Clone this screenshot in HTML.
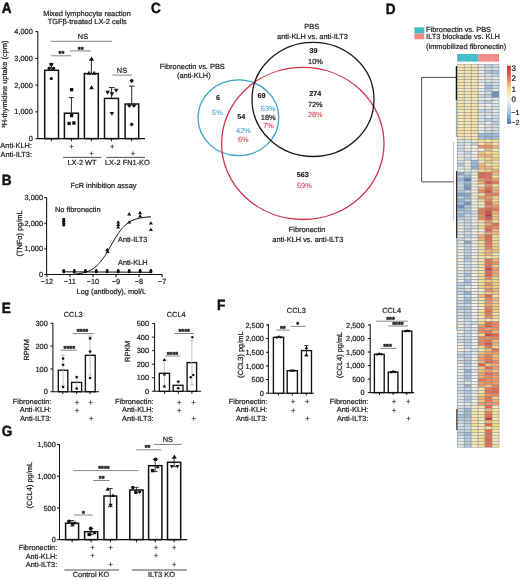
<!DOCTYPE html>
<html><head><meta charset="utf-8"><style>
html,body{margin:0;padding:0;background:#fff;}
svg{display:block;font-family:"Liberation Sans",Arial,sans-serif;text-rendering:geometricPrecision;}
</style></head><body>
<svg width="520" height="580" viewBox="0 0 520 580">
<rect width="520" height="580" fill="#fff"/>
<text x="0" y="0" font-size="14.8" font-weight="bold" fill="#111" stroke="#111" stroke-width="0.45" transform="translate(1.8 13) scale(0.92 1)">A</text>
<text x="0" y="0" font-size="14.8" font-weight="bold" fill="#111" stroke="#111" stroke-width="0.45" transform="translate(1.8 184.5) scale(0.92 1)">B</text>
<text x="0" y="0" font-size="14.8" font-weight="bold" fill="#111" stroke="#111" stroke-width="0.45" transform="translate(151.1 12.6) scale(0.92 1)">C</text>
<text x="0" y="0" font-size="14.8" font-weight="bold" fill="#111" stroke="#111" stroke-width="0.45" transform="translate(385.8 13.6) scale(0.92 1)">D</text>
<text x="0" y="0" font-size="14.8" font-weight="bold" fill="#111" stroke="#111" stroke-width="0.45" transform="translate(1.8 312.6) scale(0.92 1)">E</text>
<text x="0" y="0" font-size="14.8" font-weight="bold" fill="#111" stroke="#111" stroke-width="0.45" transform="translate(216.9 310) scale(0.92 1)">F</text>
<text x="0" y="0" font-size="14.8" font-weight="bold" fill="#111" stroke="#111" stroke-width="0.45" transform="translate(1.8 436.4) scale(0.92 1)">G</text>
<text x="87.00" y="15.80" font-size="7.4" text-anchor="middle" fill="#1e1e1e" stroke="#1e1e1e" stroke-width="0.22">Mixed lymphocyte reaction</text>
<text x="87.30" y="24.00" font-size="7.4" text-anchor="middle" fill="#1e1e1e" stroke="#1e1e1e" stroke-width="0.22">TGFβ-treated LX-2 cells</text>
<line x1="37.80" y1="31.60" x2="37.80" y2="138.60" stroke="#111" stroke-width="1.05"/>
<line x1="35.40" y1="138.60" x2="37.80" y2="138.60" stroke="#111" stroke-width="1.05"/>
<text x="32.80" y="141.20" font-size="7.4" text-anchor="end" fill="#1e1e1e" stroke="#1e1e1e" stroke-width="0.22">0</text>
<line x1="35.40" y1="111.85" x2="37.80" y2="111.85" stroke="#111" stroke-width="1.05"/>
<text x="32.80" y="114.45" font-size="7.4" text-anchor="end" fill="#1e1e1e" stroke="#1e1e1e" stroke-width="0.22">1,000</text>
<line x1="35.40" y1="85.10" x2="37.80" y2="85.10" stroke="#111" stroke-width="1.05"/>
<text x="32.80" y="87.70" font-size="7.4" text-anchor="end" fill="#1e1e1e" stroke="#1e1e1e" stroke-width="0.22">2,000</text>
<line x1="35.40" y1="58.35" x2="37.80" y2="58.35" stroke="#111" stroke-width="1.05"/>
<text x="32.80" y="60.95" font-size="7.4" text-anchor="end" fill="#1e1e1e" stroke="#1e1e1e" stroke-width="0.22">3,000</text>
<line x1="35.40" y1="31.60" x2="37.80" y2="31.60" stroke="#111" stroke-width="1.05"/>
<text x="32.80" y="34.20" font-size="7.4" text-anchor="end" fill="#1e1e1e" stroke="#1e1e1e" stroke-width="0.22">4,000</text>
<text x="7.30" y="84.20" font-size="7.4" text-anchor="middle" fill="#1e1e1e" stroke="#1e1e1e" stroke-width="0.22" transform="rotate(-90 7.3 84.2)">³H-thymidine uptake (cpm)</text>
<line x1="37.80" y1="138.60" x2="145.00" y2="138.60" stroke="#111" stroke-width="1.05"/>
<line x1="51.40" y1="138.60" x2="51.40" y2="141.20" stroke="#111" stroke-width="1.05"/>
<line x1="71.40" y1="138.60" x2="71.40" y2="141.20" stroke="#111" stroke-width="1.05"/>
<line x1="91.40" y1="138.60" x2="91.40" y2="141.20" stroke="#111" stroke-width="1.05"/>
<line x1="111.40" y1="138.60" x2="111.40" y2="141.20" stroke="#111" stroke-width="1.05"/>
<line x1="131.60" y1="138.60" x2="131.60" y2="141.20" stroke="#111" stroke-width="1.05"/>
<rect x="44.70" y="70.30" width="13.80" height="68.30" fill="#fff" stroke="#111" stroke-width="1.5"/>
<rect x="64.40" y="113.20" width="14.00" height="25.40" fill="#fff" stroke="#111" stroke-width="1.5"/>
<rect x="84.40" y="73.60" width="13.90" height="65.00" fill="#fff" stroke="#111" stroke-width="1.5"/>
<rect x="104.50" y="98.40" width="14.00" height="40.20" fill="#fff" stroke="#111" stroke-width="1.5"/>
<rect x="125.10" y="104.00" width="13.60" height="34.60" fill="#fff" stroke="#111" stroke-width="1.5"/>
<line x1="51.40" y1="63.40" x2="51.40" y2="70.30" stroke="#111" stroke-width="0.9"/>
<line x1="49.20" y1="63.40" x2="53.60" y2="63.40" stroke="#111" stroke-width="0.9"/>
<line x1="71.40" y1="97.50" x2="71.40" y2="113.20" stroke="#111" stroke-width="0.9"/>
<line x1="69.00" y1="97.50" x2="74.00" y2="97.50" stroke="#111" stroke-width="0.9"/>
<line x1="91.40" y1="60.00" x2="91.40" y2="73.60" stroke="#111" stroke-width="0.9"/>
<line x1="111.60" y1="87.60" x2="111.60" y2="98.40" stroke="#111" stroke-width="0.9"/>
<line x1="108.90" y1="87.60" x2="114.60" y2="87.60" stroke="#111" stroke-width="0.9"/>
<line x1="131.70" y1="86.10" x2="131.70" y2="104.00" stroke="#111" stroke-width="0.9"/>
<line x1="129.00" y1="86.10" x2="134.60" y2="86.10" stroke="#111" stroke-width="0.9"/>
<polygon points="51.30,62.39 53.51,64.60 51.30,66.81 49.09,64.60" fill="#111"/>
<circle cx="49.20" cy="68.30" r="1.68" fill="#111"/>
<circle cx="53.60" cy="68.50" r="1.68" fill="#111"/>
<circle cx="51.30" cy="78.60" r="1.68" fill="#111"/>
<rect x="69.92" y="88.02" width="3.36" height="3.36" fill="#111"/>
<rect x="69.92" y="113.92" width="3.36" height="3.36" fill="#111"/>
<rect x="67.42" y="121.82" width="3.36" height="3.36" fill="#111"/>
<rect x="72.22" y="121.32" width="3.36" height="3.36" fill="#111"/>
<polygon points="88.94,60.85 94.06,60.85 91.50,56.49" fill="#111"/>
<polygon points="86.61,74.64 91.20,74.64 88.90,70.73" fill="#111"/>
<polygon points="91.91,74.64 96.50,74.64 94.20,70.73" fill="#111"/>
<polygon points="89.30,89.14 93.89,89.14 91.60,85.23" fill="#111"/>
<polygon points="105.30,90.76 109.89,90.76 107.60,94.67" fill="#111"/>
<polygon points="109.61,92.36 114.20,92.36 111.90,96.27" fill="#111"/>
<polygon points="113.91,88.76 118.50,88.76 116.20,92.67" fill="#111"/>
<polygon points="109.61,111.96 114.20,111.96 111.90,115.87" fill="#111"/>
<polygon points="131.70,78.59 133.91,80.80 131.70,83.01 129.49,80.80" fill="#111"/>
<polygon points="129.40,103.39 131.61,105.60 129.40,107.81 127.19,105.60" fill="#111"/>
<polygon points="133.90,103.39 136.11,105.60 133.90,107.81 131.69,105.60" fill="#111"/>
<polygon points="131.70,122.19 133.91,124.40 131.70,126.61 129.49,124.40" fill="#111"/>
<line x1="50.60" y1="41.30" x2="112.10" y2="41.30" stroke="#555" stroke-width="0.7"/>
<text x="83.00" y="39.00" font-size="7.4" text-anchor="middle" fill="#1e1e1e" stroke="#1e1e1e" stroke-width="0.22">NS</text>
<line x1="51.20" y1="55.80" x2="71.10" y2="55.80" stroke="#555" stroke-width="0.7"/>
<text x="61.40" y="56.40" font-size="7.4" text-anchor="middle" font-weight="bold" fill="#111" stroke="#111" stroke-width="0.35">**</text>
<line x1="69.90" y1="50.90" x2="91.00" y2="50.90" stroke="#555" stroke-width="0.7"/>
<text x="80.70" y="51.50" font-size="7.4" text-anchor="middle" font-weight="bold" fill="#111" stroke="#111" stroke-width="0.35">**</text>
<line x1="112.30" y1="75.10" x2="131.70" y2="75.10" stroke="#555" stroke-width="0.7"/>
<text x="122.00" y="73.00" font-size="7.4" text-anchor="middle" fill="#1e1e1e" stroke="#1e1e1e" stroke-width="0.22">NS</text>
<text x="32.00" y="148.40" font-size="7.4" text-anchor="end" fill="#1e1e1e" stroke="#1e1e1e" stroke-width="0.22">Anti-KLH:</text>
<text x="32.00" y="157.00" font-size="7.4" text-anchor="end" fill="#1e1e1e" stroke="#1e1e1e" stroke-width="0.22">Anti-ILT3:</text>
<text x="71.50" y="148.70" font-size="7.6" text-anchor="middle" fill="#333" stroke="#333" stroke-width="0.22">+</text>
<text x="112.30" y="148.70" font-size="7.6" text-anchor="middle" fill="#333" stroke="#333" stroke-width="0.22">+</text>
<text x="91.50" y="155.80" font-size="7.6" text-anchor="middle" fill="#333" stroke="#333" stroke-width="0.22">+</text>
<text x="133.00" y="155.80" font-size="7.6" text-anchor="middle" fill="#333" stroke="#333" stroke-width="0.22">+</text>
<line x1="63.00" y1="157.40" x2="101.30" y2="157.40" stroke="#222" stroke-width="0.8"/>
<text x="82.00" y="165.20" font-size="7.4" text-anchor="middle" fill="#1e1e1e" stroke="#1e1e1e" stroke-width="0.22">LX-2 WT</text>
<line x1="106.30" y1="157.40" x2="145.00" y2="157.40" stroke="#222" stroke-width="0.8"/>
<text x="127.40" y="165.20" font-size="7.4" text-anchor="middle" fill="#1e1e1e" stroke="#1e1e1e" stroke-width="0.22">LX-2 FN1-KO</text>
<text x="103.50" y="187.60" font-size="7.4" text-anchor="middle" fill="#1e1e1e" stroke="#1e1e1e" stroke-width="0.22">FcR inhibition assay</text>
<line x1="46.60" y1="197.40" x2="46.60" y2="274.50" stroke="#111" stroke-width="1.05"/>
<line x1="44.20" y1="274.50" x2="46.60" y2="274.50" stroke="#111" stroke-width="1.05"/>
<text x="43.00" y="277.10" font-size="7.4" text-anchor="end" fill="#1e1e1e" stroke="#1e1e1e" stroke-width="0.22">0</text>
<line x1="44.20" y1="248.87" x2="46.60" y2="248.87" stroke="#111" stroke-width="1.05"/>
<text x="43.00" y="251.47" font-size="7.4" text-anchor="end" fill="#1e1e1e" stroke="#1e1e1e" stroke-width="0.22">1,000</text>
<line x1="44.20" y1="223.23" x2="46.60" y2="223.23" stroke="#111" stroke-width="1.05"/>
<text x="43.00" y="225.83" font-size="7.4" text-anchor="end" fill="#1e1e1e" stroke="#1e1e1e" stroke-width="0.22">2,000</text>
<line x1="44.20" y1="197.60" x2="46.60" y2="197.60" stroke="#111" stroke-width="1.05"/>
<text x="43.00" y="200.20" font-size="7.4" text-anchor="end" fill="#1e1e1e" stroke="#1e1e1e" stroke-width="0.22">3,000</text>
<text x="22.00" y="233.50" font-size="7.4" text-anchor="middle" fill="#1e1e1e" stroke="#1e1e1e" stroke-width="0.22" transform="rotate(-90 22.0 233.5)">(TNFα) pg/mL</text>
<line x1="46.60" y1="274.50" x2="162.50" y2="274.50" stroke="#111" stroke-width="1.05"/>
<line x1="46.90" y1="274.50" x2="46.90" y2="277.10" stroke="#111" stroke-width="1.05"/>
<line x1="69.93" y1="274.50" x2="69.93" y2="277.10" stroke="#111" stroke-width="1.05"/>
<line x1="92.96" y1="274.50" x2="92.96" y2="277.10" stroke="#111" stroke-width="1.05"/>
<line x1="115.99" y1="274.50" x2="115.99" y2="277.10" stroke="#111" stroke-width="1.05"/>
<line x1="139.02" y1="274.50" x2="139.02" y2="277.10" stroke="#111" stroke-width="1.05"/>
<line x1="162.05" y1="274.50" x2="162.05" y2="277.10" stroke="#111" stroke-width="1.05"/>
<text x="46.90" y="283.80" font-size="7.4" text-anchor="middle" fill="#1e1e1e" stroke="#1e1e1e" stroke-width="0.22">−12</text>
<text x="69.93" y="283.80" font-size="7.4" text-anchor="middle" fill="#1e1e1e" stroke="#1e1e1e" stroke-width="0.22">−11</text>
<text x="92.96" y="283.80" font-size="7.4" text-anchor="middle" fill="#1e1e1e" stroke="#1e1e1e" stroke-width="0.22">−10</text>
<text x="115.99" y="283.80" font-size="7.4" text-anchor="middle" fill="#1e1e1e" stroke="#1e1e1e" stroke-width="0.22">−9</text>
<text x="139.02" y="283.80" font-size="7.4" text-anchor="middle" fill="#1e1e1e" stroke="#1e1e1e" stroke-width="0.22">−8</text>
<text x="162.05" y="283.80" font-size="7.4" text-anchor="middle" fill="#1e1e1e" stroke="#1e1e1e" stroke-width="0.22">−7</text>
<text x="111.30" y="294.00" font-size="7.4" text-anchor="middle" fill="#1e1e1e" stroke="#1e1e1e" stroke-width="0.22">Log (antibody), mol/L</text>
<text x="55.00" y="212.20" font-size="7.4" text-anchor="start" fill="#1e1e1e" stroke="#1e1e1e" stroke-width="0.22">No fibronectin</text>
<text x="118.00" y="241.80" font-size="7.4" text-anchor="start" fill="#1e1e1e" stroke="#1e1e1e" stroke-width="0.22">Anti-ILT3</text>
<text x="118.00" y="265.40" font-size="7.4" text-anchor="start" fill="#1e1e1e" stroke="#1e1e1e" stroke-width="0.22">Anti-KLH</text>
<line x1="63.50" y1="271.80" x2="151.00" y2="272.30" stroke="#111" stroke-width="1.0"/>
<circle cx="63.75" cy="271.80" r="1.56" fill="#111"/>
<circle cx="63.75" cy="270.40" r="1.32" fill="#111"/>
<circle cx="74.30" cy="271.80" r="1.56" fill="#111"/>
<circle cx="74.30" cy="270.40" r="1.32" fill="#111"/>
<circle cx="85.40" cy="271.80" r="1.56" fill="#111"/>
<circle cx="85.40" cy="270.40" r="1.32" fill="#111"/>
<circle cx="96.30" cy="271.80" r="1.56" fill="#111"/>
<circle cx="96.30" cy="270.40" r="1.32" fill="#111"/>
<circle cx="107.20" cy="271.80" r="1.56" fill="#111"/>
<circle cx="107.20" cy="270.40" r="1.32" fill="#111"/>
<circle cx="118.20" cy="271.80" r="1.56" fill="#111"/>
<circle cx="118.20" cy="270.40" r="1.32" fill="#111"/>
<circle cx="129.20" cy="271.80" r="1.56" fill="#111"/>
<circle cx="129.20" cy="270.40" r="1.32" fill="#111"/>
<circle cx="140.10" cy="271.80" r="1.56" fill="#111"/>
<circle cx="140.10" cy="270.40" r="1.32" fill="#111"/>
<circle cx="150.90" cy="271.80" r="1.56" fill="#111"/>
<circle cx="150.90" cy="270.40" r="1.32" fill="#111"/>
<circle cx="63.75" cy="219.40" r="1.56" fill="#111"/>
<circle cx="63.75" cy="221.30" r="1.56" fill="#111"/>
<circle cx="63.75" cy="223.20" r="1.56" fill="#111"/>
<circle cx="63.75" cy="225.00" r="1.56" fill="#111"/>
<polyline fill="none" stroke="#111" stroke-width="1.0" points="72.00,274.35 73.00,274.28 74.00,274.20 75.00,274.12 76.00,274.02 77.00,273.91 78.00,273.78 79.00,273.64 80.00,273.49 81.00,273.31 82.00,273.12 83.00,272.90 84.00,272.65 85.00,272.38 86.00,272.07 87.00,271.73 88.00,271.35 89.00,270.93 90.00,270.47 91.00,269.95 92.00,269.38 93.00,268.75 94.00,268.06 95.00,267.30 96.00,266.48 97.00,265.57 98.00,264.60 99.00,263.54 100.00,262.40 101.00,261.19 102.00,259.89 103.00,258.51 104.00,257.06 105.00,255.54 106.00,253.96 107.00,252.32 108.00,250.64 109.00,248.92 110.00,247.18 111.00,245.42 112.00,243.67 113.00,241.93 114.00,240.22 115.00,238.55 116.00,236.92 117.00,235.35 118.00,233.84 119.00,232.41 120.00,231.05 121.00,229.76 122.00,228.56 123.00,227.44 124.00,226.40 125.00,225.44 126.00,224.55 127.00,223.74 128.00,223.00 129.00,222.32 130.00,221.70 131.00,221.14 132.00,220.64 133.00,220.18 134.00,219.77 135.00,219.40 136.00,219.06 137.00,218.76 138.00,218.50 139.00,218.26 140.00,218.04 141.00,217.85 142.00,217.68 143.00,217.53 144.00,217.39 145.00,217.27 146.00,217.16 147.00,217.07 148.00,216.98 149.00,216.91 150.00,216.84 151.00,216.78"/>
<polygon points="105.17,251.12 109.23,251.12 107.20,247.68" fill="#111"/>
<polygon points="105.57,252.92 109.62,252.92 107.60,249.48" fill="#111"/>
<polygon points="116.17,223.62 120.23,223.62 118.20,220.18" fill="#111"/>
<polygon points="116.17,226.12 120.23,226.12 118.20,222.68" fill="#111"/>
<polygon points="116.17,228.62 120.23,228.62 118.20,225.18" fill="#111"/>
<polygon points="127.17,215.42 131.22,215.42 129.20,211.98" fill="#111"/>
<polygon points="127.17,223.62 131.22,223.62 129.20,220.18" fill="#111"/>
<polygon points="138.07,214.22 142.12,214.22 140.10,210.78" fill="#111"/>
<polygon points="138.07,217.42 142.12,217.42 140.10,213.98" fill="#111"/>
<polygon points="148.88,224.62 152.93,224.62 150.90,221.18" fill="#111"/>
<polygon points="148.88,231.12 152.93,231.12 150.90,227.68" fill="#111"/>
<text x="73.20" y="317.00" font-size="7.4" text-anchor="middle" fill="#1e1e1e" stroke="#1e1e1e" stroke-width="0.22">CCL3</text>
<line x1="52.90" y1="323.30" x2="52.90" y2="391.70" stroke="#111" stroke-width="1.05"/>
<line x1="50.50" y1="391.70" x2="52.90" y2="391.70" stroke="#111" stroke-width="1.05"/>
<text x="47.80" y="394.30" font-size="7.4" text-anchor="end" fill="#1e1e1e" stroke="#1e1e1e" stroke-width="0.22">0</text>
<line x1="50.50" y1="368.90" x2="52.90" y2="368.90" stroke="#111" stroke-width="1.05"/>
<text x="47.80" y="371.50" font-size="7.4" text-anchor="end" fill="#1e1e1e" stroke="#1e1e1e" stroke-width="0.22">100</text>
<line x1="50.50" y1="346.10" x2="52.90" y2="346.10" stroke="#111" stroke-width="1.05"/>
<text x="47.80" y="348.70" font-size="7.4" text-anchor="end" fill="#1e1e1e" stroke="#1e1e1e" stroke-width="0.22">200</text>
<line x1="50.50" y1="323.30" x2="52.90" y2="323.30" stroke="#111" stroke-width="1.05"/>
<text x="47.80" y="325.90" font-size="7.4" text-anchor="end" fill="#1e1e1e" stroke="#1e1e1e" stroke-width="0.22">300</text>
<text x="29.40" y="349.80" font-size="7.4" text-anchor="middle" fill="#1e1e1e" stroke="#1e1e1e" stroke-width="0.22" transform="rotate(-90 29.4 349.8)">RPKM</text>
<line x1="52.90" y1="391.70" x2="99.00" y2="391.70" stroke="#111" stroke-width="1.05"/>
<line x1="62.80" y1="391.70" x2="62.80" y2="394.10" stroke="#111" stroke-width="1.05"/>
<line x1="76.70" y1="391.70" x2="76.70" y2="394.10" stroke="#111" stroke-width="1.05"/>
<line x1="90.10" y1="391.70" x2="90.10" y2="394.10" stroke="#111" stroke-width="1.05"/>
<rect x="58.30" y="370.20" width="9.50" height="21.50" fill="#fff" stroke="#111" stroke-width="1.35"/>
<rect x="71.60" y="382.40" width="10.00" height="9.30" fill="#fff" stroke="#111" stroke-width="1.35"/>
<rect x="85.40" y="355.30" width="9.80" height="36.40" fill="#fff" stroke="#111" stroke-width="1.35"/>
<line x1="63.10" y1="355.30" x2="63.10" y2="385.30" stroke="#aaa" stroke-width="0.7"/>
<line x1="61.10" y1="355.30" x2="65.10" y2="355.30" stroke="#aaa" stroke-width="0.7"/>
<line x1="61.10" y1="385.30" x2="65.10" y2="385.30" stroke="#aaa" stroke-width="0.7"/>
<line x1="76.70" y1="378.30" x2="76.70" y2="389.00" stroke="#aaa" stroke-width="0.7"/>
<line x1="74.70" y1="378.30" x2="78.70" y2="378.30" stroke="#aaa" stroke-width="0.7"/>
<line x1="74.70" y1="389.00" x2="78.70" y2="389.00" stroke="#aaa" stroke-width="0.7"/>
<line x1="90.10" y1="336.00" x2="90.10" y2="375.00" stroke="#aaa" stroke-width="0.7"/>
<line x1="88.10" y1="336.00" x2="92.10" y2="336.00" stroke="#aaa" stroke-width="0.7"/>
<line x1="88.10" y1="375.00" x2="92.10" y2="375.00" stroke="#aaa" stroke-width="0.7"/>
<circle cx="63.10" cy="358.60" r="1.32" fill="#111"/>
<circle cx="63.10" cy="364.80" r="1.32" fill="#111"/>
<circle cx="63.10" cy="387.10" r="1.32" fill="#111"/>
<circle cx="76.70" cy="377.00" r="1.32" fill="#111"/>
<circle cx="76.70" cy="388.50" r="1.32" fill="#111"/>
<circle cx="90.10" cy="338.40" r="1.32" fill="#111"/>
<circle cx="90.10" cy="351.60" r="1.32" fill="#111"/>
<circle cx="90.10" cy="378.00" r="1.32" fill="#111"/>
<line x1="60.80" y1="350.20" x2="76.90" y2="350.20" stroke="#555" stroke-width="0.7"/>
<text x="69.30" y="350.80" font-size="7.4" text-anchor="middle" font-weight="bold" fill="#111" stroke="#111" stroke-width="0.35">****</text>
<line x1="72.50" y1="333.60" x2="94.20" y2="333.60" stroke="#555" stroke-width="0.7"/>
<text x="82.40" y="334.20" font-size="7.4" text-anchor="middle" font-weight="bold" fill="#111" stroke="#111" stroke-width="0.35">****</text>
<text x="51.40" y="403.60" font-size="7.4" text-anchor="end" fill="#1e1e1e" stroke="#1e1e1e" stroke-width="0.22">Fibronectin:</text>
<text x="51.40" y="412.30" font-size="7.4" text-anchor="end" fill="#1e1e1e" stroke="#1e1e1e" stroke-width="0.22">Anti-KLH:</text>
<text x="51.40" y="421.40" font-size="7.4" text-anchor="end" fill="#1e1e1e" stroke="#1e1e1e" stroke-width="0.22">Anti-ILT3:</text>
<text x="76.90" y="404.60" font-size="7.6" text-anchor="middle" fill="#333" stroke="#333" stroke-width="0.22">+</text>
<text x="90.80" y="404.60" font-size="7.6" text-anchor="middle" fill="#333" stroke="#333" stroke-width="0.22">+</text>
<text x="76.90" y="412.80" font-size="7.6" text-anchor="middle" fill="#333" stroke="#333" stroke-width="0.22">+</text>
<text x="91.20" y="421.30" font-size="7.6" text-anchor="middle" fill="#333" stroke="#333" stroke-width="0.22">+</text>
<text x="176.20" y="316.60" font-size="7.4" text-anchor="middle" fill="#1e1e1e" stroke="#1e1e1e" stroke-width="0.22">CCL4</text>
<line x1="154.60" y1="323.40" x2="154.60" y2="391.30" stroke="#111" stroke-width="1.05"/>
<line x1="152.20" y1="391.30" x2="154.60" y2="391.30" stroke="#111" stroke-width="1.05"/>
<text x="149.00" y="393.90" font-size="7.4" text-anchor="end" fill="#1e1e1e" stroke="#1e1e1e" stroke-width="0.22">0</text>
<line x1="152.20" y1="377.76" x2="154.60" y2="377.76" stroke="#111" stroke-width="1.05"/>
<text x="149.00" y="380.36" font-size="7.4" text-anchor="end" fill="#1e1e1e" stroke="#1e1e1e" stroke-width="0.22">100</text>
<line x1="152.20" y1="364.22" x2="154.60" y2="364.22" stroke="#111" stroke-width="1.05"/>
<text x="149.00" y="366.82" font-size="7.4" text-anchor="end" fill="#1e1e1e" stroke="#1e1e1e" stroke-width="0.22">200</text>
<line x1="152.20" y1="350.68" x2="154.60" y2="350.68" stroke="#111" stroke-width="1.05"/>
<text x="149.00" y="353.28" font-size="7.4" text-anchor="end" fill="#1e1e1e" stroke="#1e1e1e" stroke-width="0.22">300</text>
<line x1="152.20" y1="337.14" x2="154.60" y2="337.14" stroke="#111" stroke-width="1.05"/>
<text x="149.00" y="339.74" font-size="7.4" text-anchor="end" fill="#1e1e1e" stroke="#1e1e1e" stroke-width="0.22">400</text>
<line x1="152.20" y1="323.60" x2="154.60" y2="323.60" stroke="#111" stroke-width="1.05"/>
<text x="149.00" y="326.20" font-size="7.4" text-anchor="end" fill="#1e1e1e" stroke="#1e1e1e" stroke-width="0.22">500</text>
<text x="130.20" y="351.20" font-size="7.4" text-anchor="middle" fill="#1e1e1e" stroke="#1e1e1e" stroke-width="0.22" transform="rotate(-90 130.2 351.2)">RPKM</text>
<line x1="154.60" y1="391.30" x2="201.00" y2="391.30" stroke="#111" stroke-width="1.05"/>
<line x1="164.60" y1="391.30" x2="164.60" y2="393.70" stroke="#111" stroke-width="1.05"/>
<line x1="178.30" y1="391.30" x2="178.30" y2="393.70" stroke="#111" stroke-width="1.05"/>
<line x1="191.90" y1="391.30" x2="191.90" y2="393.70" stroke="#111" stroke-width="1.05"/>
<rect x="159.30" y="373.30" width="10.20" height="18.00" fill="#fff" stroke="#111" stroke-width="1.35"/>
<rect x="173.20" y="385.30" width="9.80" height="6.00" fill="#fff" stroke="#111" stroke-width="1.35"/>
<rect x="187.10" y="362.60" width="9.50" height="28.70" fill="#fff" stroke="#111" stroke-width="1.35"/>
<line x1="164.40" y1="359.70" x2="164.40" y2="386.00" stroke="#aaa" stroke-width="0.7"/>
<line x1="162.40" y1="359.70" x2="166.40" y2="359.70" stroke="#aaa" stroke-width="0.7"/>
<line x1="162.40" y1="386.00" x2="166.40" y2="386.00" stroke="#aaa" stroke-width="0.7"/>
<line x1="178.30" y1="381.60" x2="178.30" y2="388.20" stroke="#aaa" stroke-width="0.7"/>
<line x1="176.30" y1="381.60" x2="180.30" y2="381.60" stroke="#aaa" stroke-width="0.7"/>
<line x1="176.30" y1="388.20" x2="180.30" y2="388.20" stroke="#aaa" stroke-width="0.7"/>
<line x1="191.90" y1="340.20" x2="191.90" y2="385.00" stroke="#aaa" stroke-width="0.7"/>
<line x1="189.90" y1="340.20" x2="193.90" y2="340.20" stroke="#aaa" stroke-width="0.7"/>
<line x1="189.90" y1="385.00" x2="193.90" y2="385.00" stroke="#aaa" stroke-width="0.7"/>
<polygon points="162.65,361.10 166.16,361.10 164.40,358.12" fill="#111"/>
<polygon points="162.65,375.40 166.16,375.40 164.40,372.42" fill="#111"/>
<polygon points="162.65,387.40 166.16,387.40 164.40,384.42" fill="#111"/>
<circle cx="178.30" cy="381.60" r="1.32" fill="#111"/>
<circle cx="178.30" cy="388.20" r="1.32" fill="#111"/>
<circle cx="192.30" cy="337.30" r="1.2" fill="#111"/>
<circle cx="190.80" cy="377.30" r="1.2" fill="#111"/>
<circle cx="193.30" cy="375.00" r="1.2" fill="#111"/>
<line x1="165.20" y1="356.00" x2="179.80" y2="356.00" stroke="#555" stroke-width="0.7"/>
<text x="172.50" y="356.60" font-size="7.4" text-anchor="middle" font-weight="bold" fill="#111" stroke="#111" stroke-width="0.35">****</text>
<line x1="174.40" y1="333.50" x2="194.00" y2="333.50" stroke="#555" stroke-width="0.7"/>
<text x="184.20" y="334.10" font-size="7.4" text-anchor="middle" font-weight="bold" fill="#111" stroke="#111" stroke-width="0.35">****</text>
<text x="153.60" y="403.60" font-size="7.4" text-anchor="end" fill="#1e1e1e" stroke="#1e1e1e" stroke-width="0.22">Fibronectin:</text>
<text x="153.60" y="412.30" font-size="7.4" text-anchor="end" fill="#1e1e1e" stroke="#1e1e1e" stroke-width="0.22">Anti-KLH:</text>
<text x="153.60" y="421.40" font-size="7.4" text-anchor="end" fill="#1e1e1e" stroke="#1e1e1e" stroke-width="0.22">Anti-ILT3:</text>
<text x="179.20" y="404.60" font-size="7.6" text-anchor="middle" fill="#333" stroke="#333" stroke-width="0.22">+</text>
<text x="193.40" y="404.60" font-size="7.6" text-anchor="middle" fill="#333" stroke="#333" stroke-width="0.22">+</text>
<text x="179.20" y="412.80" font-size="7.6" text-anchor="middle" fill="#333" stroke="#333" stroke-width="0.22">+</text>
<text x="193.80" y="421.30" font-size="7.6" text-anchor="middle" fill="#333" stroke="#333" stroke-width="0.22">+</text>
<text x="296.30" y="312.60" font-size="7.4" text-anchor="middle" fill="#1e1e1e" stroke="#1e1e1e" stroke-width="0.22">CCL3</text>
<line x1="268.40" y1="324.20" x2="268.40" y2="393.20" stroke="#111" stroke-width="1.05"/>
<line x1="266.00" y1="393.20" x2="268.40" y2="393.20" stroke="#111" stroke-width="1.05"/>
<text x="263.90" y="395.80" font-size="7.4" text-anchor="end" fill="#1e1e1e" stroke="#1e1e1e" stroke-width="0.22">0</text>
<line x1="266.00" y1="379.56" x2="268.40" y2="379.56" stroke="#111" stroke-width="1.05"/>
<text x="263.90" y="382.16" font-size="7.4" text-anchor="end" fill="#1e1e1e" stroke="#1e1e1e" stroke-width="0.22">500</text>
<line x1="266.00" y1="365.92" x2="268.40" y2="365.92" stroke="#111" stroke-width="1.05"/>
<text x="263.90" y="368.52" font-size="7.4" text-anchor="end" fill="#1e1e1e" stroke="#1e1e1e" stroke-width="0.22">1,000</text>
<line x1="266.00" y1="352.28" x2="268.40" y2="352.28" stroke="#111" stroke-width="1.05"/>
<text x="263.90" y="354.88" font-size="7.4" text-anchor="end" fill="#1e1e1e" stroke="#1e1e1e" stroke-width="0.22">1,500</text>
<line x1="266.00" y1="338.64" x2="268.40" y2="338.64" stroke="#111" stroke-width="1.05"/>
<text x="263.90" y="341.24" font-size="7.4" text-anchor="end" fill="#1e1e1e" stroke="#1e1e1e" stroke-width="0.22">2,000</text>
<line x1="266.00" y1="325.00" x2="268.40" y2="325.00" stroke="#111" stroke-width="1.05"/>
<text x="263.90" y="327.60" font-size="7.4" text-anchor="end" fill="#1e1e1e" stroke="#1e1e1e" stroke-width="0.22">2,500</text>
<text x="242.80" y="354.70" font-size="7.4" text-anchor="middle" fill="#1e1e1e" stroke="#1e1e1e" stroke-width="0.22" transform="rotate(-90 242.8 354.7)">(CCL3) pg/mL</text>
<line x1="268.40" y1="393.20" x2="314.00" y2="393.20" stroke="#111" stroke-width="1.05"/>
<line x1="278.40" y1="393.20" x2="278.40" y2="395.60" stroke="#111" stroke-width="1.05"/>
<line x1="292.30" y1="393.20" x2="292.30" y2="395.60" stroke="#111" stroke-width="1.05"/>
<line x1="306.30" y1="393.20" x2="306.30" y2="395.60" stroke="#111" stroke-width="1.05"/>
<rect x="273.40" y="337.30" width="10.20" height="55.90" fill="#fff" stroke="#111" stroke-width="1.35"/>
<rect x="287.20" y="370.70" width="10.20" height="22.50" fill="#fff" stroke="#111" stroke-width="1.35"/>
<rect x="301.50" y="350.60" width="10.00" height="42.60" fill="#fff" stroke="#111" stroke-width="1.35"/>
<circle cx="276.60" cy="337.50" r="1.2" fill="#111"/>
<circle cx="278.80" cy="336.70" r="1.2" fill="#111"/>
<circle cx="280.70" cy="337.30" r="1.2" fill="#111"/>
<circle cx="290.50" cy="370.60" r="1.2" fill="#111"/>
<circle cx="292.30" cy="370.50" r="1.2" fill="#111"/>
<circle cx="294.20" cy="370.60" r="1.2" fill="#111"/>
<line x1="306.40" y1="345.50" x2="306.40" y2="356.00" stroke="#111" stroke-width="0.8"/>
<line x1="304.40" y1="345.50" x2="308.40" y2="345.50" stroke="#111" stroke-width="0.8"/>
<line x1="304.40" y1="356.00" x2="308.40" y2="356.00" stroke="#111" stroke-width="0.8"/>
<polygon points="304.64,348.90 308.15,348.90 306.40,345.92" fill="#111"/>
<polygon points="304.64,355.90 308.15,355.90 306.40,352.92" fill="#111"/>
<line x1="276.30" y1="330.10" x2="289.80" y2="330.10" stroke="#555" stroke-width="0.7"/>
<text x="282.80" y="330.70" font-size="7.4" text-anchor="middle" font-weight="bold" fill="#111" stroke="#111" stroke-width="0.35">**</text>
<line x1="290.50" y1="326.40" x2="305.60" y2="326.40" stroke="#555" stroke-width="0.7"/>
<text x="297.60" y="327.00" font-size="7.4" text-anchor="middle" font-weight="bold" fill="#111" stroke="#111" stroke-width="0.35">*</text>
<text x="267.40" y="403.60" font-size="7.4" text-anchor="end" fill="#1e1e1e" stroke="#1e1e1e" stroke-width="0.22">Fibronectin:</text>
<text x="267.40" y="412.30" font-size="7.4" text-anchor="end" fill="#1e1e1e" stroke="#1e1e1e" stroke-width="0.22">Anti-KLH:</text>
<text x="267.40" y="421.40" font-size="7.4" text-anchor="end" fill="#1e1e1e" stroke="#1e1e1e" stroke-width="0.22">Anti-ILT3:</text>
<text x="292.90" y="404.40" font-size="7.6" text-anchor="middle" fill="#333" stroke="#333" stroke-width="0.22">+</text>
<text x="307.30" y="404.40" font-size="7.6" text-anchor="middle" fill="#333" stroke="#333" stroke-width="0.22">+</text>
<text x="293.10" y="412.50" font-size="7.6" text-anchor="middle" fill="#333" stroke="#333" stroke-width="0.22">+</text>
<text x="307.50" y="421.30" font-size="7.6" text-anchor="middle" fill="#333" stroke="#333" stroke-width="0.22">+</text>
<text x="391.60" y="312.60" font-size="7.4" text-anchor="middle" fill="#1e1e1e" stroke="#1e1e1e" stroke-width="0.22">CCL4</text>
<line x1="370.20" y1="324.20" x2="370.20" y2="392.60" stroke="#111" stroke-width="1.05"/>
<line x1="367.80" y1="392.60" x2="370.20" y2="392.60" stroke="#111" stroke-width="1.05"/>
<text x="364.60" y="395.20" font-size="7.4" text-anchor="end" fill="#1e1e1e" stroke="#1e1e1e" stroke-width="0.22">0</text>
<line x1="367.80" y1="379.08" x2="370.20" y2="379.08" stroke="#111" stroke-width="1.05"/>
<text x="364.60" y="381.68" font-size="7.4" text-anchor="end" fill="#1e1e1e" stroke="#1e1e1e" stroke-width="0.22">500</text>
<line x1="367.80" y1="365.56" x2="370.20" y2="365.56" stroke="#111" stroke-width="1.05"/>
<text x="364.60" y="368.16" font-size="7.4" text-anchor="end" fill="#1e1e1e" stroke="#1e1e1e" stroke-width="0.22">1,000</text>
<line x1="367.80" y1="352.04" x2="370.20" y2="352.04" stroke="#111" stroke-width="1.05"/>
<text x="364.60" y="354.64" font-size="7.4" text-anchor="end" fill="#1e1e1e" stroke="#1e1e1e" stroke-width="0.22">1,500</text>
<line x1="367.80" y1="338.52" x2="370.20" y2="338.52" stroke="#111" stroke-width="1.05"/>
<text x="364.60" y="341.12" font-size="7.4" text-anchor="end" fill="#1e1e1e" stroke="#1e1e1e" stroke-width="0.22">2,000</text>
<line x1="367.80" y1="325.00" x2="370.20" y2="325.00" stroke="#111" stroke-width="1.05"/>
<text x="364.60" y="327.60" font-size="7.4" text-anchor="end" fill="#1e1e1e" stroke="#1e1e1e" stroke-width="0.22">2,500</text>
<text x="342.40" y="355.00" font-size="7.4" text-anchor="middle" fill="#1e1e1e" stroke="#1e1e1e" stroke-width="0.22" transform="rotate(-90 342.4 355.0)">(CCL4) pg/mL</text>
<line x1="370.20" y1="392.60" x2="414.00" y2="392.60" stroke="#111" stroke-width="1.05"/>
<line x1="379.50" y1="392.60" x2="379.50" y2="395.00" stroke="#111" stroke-width="1.05"/>
<line x1="393.10" y1="392.60" x2="393.10" y2="395.00" stroke="#111" stroke-width="1.05"/>
<line x1="406.80" y1="392.60" x2="406.80" y2="395.00" stroke="#111" stroke-width="1.05"/>
<rect x="374.40" y="354.30" width="9.80" height="38.30" fill="#fff" stroke="#111" stroke-width="1.35"/>
<rect x="388.30" y="372.10" width="9.60" height="20.50" fill="#fff" stroke="#111" stroke-width="1.35"/>
<rect x="402.30" y="331.10" width="9.50" height="61.50" fill="#fff" stroke="#111" stroke-width="1.35"/>
<circle cx="377.30" cy="354.50" r="1.2" fill="#111"/>
<circle cx="379.30" cy="353.80" r="1.2" fill="#111"/>
<circle cx="381.30" cy="354.30" r="1.2" fill="#111"/>
<circle cx="391.20" cy="372.30" r="1.2" fill="#111"/>
<circle cx="393.10" cy="371.40" r="1.2" fill="#111"/>
<circle cx="395.00" cy="372.00" r="1.2" fill="#111"/>
<circle cx="405.30" cy="331.30" r="1.2" fill="#111"/>
<circle cx="407.10" cy="330.60" r="1.2" fill="#111"/>
<circle cx="409.00" cy="331.00" r="1.2" fill="#111"/>
<line x1="375.90" y1="321.20" x2="408.10" y2="321.20" stroke="#555" stroke-width="0.7"/>
<text x="390.50" y="321.80" font-size="7.4" text-anchor="middle" font-weight="bold" fill="#111" stroke="#111" stroke-width="0.35">***</text>
<line x1="388.30" y1="326.00" x2="408.10" y2="326.00" stroke="#555" stroke-width="0.7"/>
<text x="397.90" y="326.60" font-size="7.4" text-anchor="middle" font-weight="bold" fill="#111" stroke="#111" stroke-width="0.35">****</text>
<line x1="380.30" y1="348.40" x2="396.40" y2="348.40" stroke="#555" stroke-width="0.7"/>
<text x="387.50" y="349.00" font-size="7.4" text-anchor="middle" font-weight="bold" fill="#111" stroke="#111" stroke-width="0.35">***</text>
<text x="368.40" y="403.60" font-size="7.4" text-anchor="end" fill="#1e1e1e" stroke="#1e1e1e" stroke-width="0.22">Fibronectin:</text>
<text x="368.40" y="412.30" font-size="7.4" text-anchor="end" fill="#1e1e1e" stroke="#1e1e1e" stroke-width="0.22">Anti-KLH:</text>
<text x="368.40" y="421.40" font-size="7.4" text-anchor="end" fill="#1e1e1e" stroke="#1e1e1e" stroke-width="0.22">Anti-ILT3:</text>
<text x="393.90" y="404.40" font-size="7.6" text-anchor="middle" fill="#333" stroke="#333" stroke-width="0.22">+</text>
<text x="408.20" y="404.40" font-size="7.6" text-anchor="middle" fill="#333" stroke="#333" stroke-width="0.22">+</text>
<text x="393.90" y="412.50" font-size="7.6" text-anchor="middle" fill="#333" stroke="#333" stroke-width="0.22">+</text>
<text x="408.40" y="421.30" font-size="7.6" text-anchor="middle" fill="#333" stroke="#333" stroke-width="0.22">+</text>
<line x1="59.50" y1="444.40" x2="59.50" y2="539.60" stroke="#111" stroke-width="1.05"/>
<line x1="57.10" y1="539.60" x2="59.50" y2="539.60" stroke="#111" stroke-width="1.05"/>
<text x="55.80" y="542.20" font-size="7.4" text-anchor="end" fill="#1e1e1e" stroke="#1e1e1e" stroke-width="0.22">0</text>
<line x1="57.10" y1="507.93" x2="59.50" y2="507.93" stroke="#111" stroke-width="1.05"/>
<text x="55.80" y="510.53" font-size="7.4" text-anchor="end" fill="#1e1e1e" stroke="#1e1e1e" stroke-width="0.22">500</text>
<line x1="57.10" y1="476.27" x2="59.50" y2="476.27" stroke="#111" stroke-width="1.05"/>
<text x="55.80" y="478.87" font-size="7.4" text-anchor="end" fill="#1e1e1e" stroke="#1e1e1e" stroke-width="0.22">1,000</text>
<line x1="57.10" y1="444.60" x2="59.50" y2="444.60" stroke="#111" stroke-width="1.05"/>
<text x="55.80" y="447.20" font-size="7.4" text-anchor="end" fill="#1e1e1e" stroke="#1e1e1e" stroke-width="0.22">1,500</text>
<text x="31.80" y="485.20" font-size="7.4" text-anchor="middle" fill="#1e1e1e" stroke="#1e1e1e" stroke-width="0.22" transform="rotate(-90 31.8 485.2)">(CCL4) pg/mL</text>
<line x1="59.50" y1="539.60" x2="187.30" y2="539.60" stroke="#111" stroke-width="1.05"/>
<line x1="72.10" y1="539.60" x2="72.10" y2="542.20" stroke="#111" stroke-width="1.05"/>
<line x1="91.15" y1="539.60" x2="91.15" y2="542.20" stroke="#111" stroke-width="1.05"/>
<line x1="110.35" y1="539.60" x2="110.35" y2="542.20" stroke="#111" stroke-width="1.05"/>
<line x1="136.45" y1="539.60" x2="136.45" y2="542.20" stroke="#111" stroke-width="1.05"/>
<line x1="155.25" y1="539.60" x2="155.25" y2="542.20" stroke="#111" stroke-width="1.05"/>
<line x1="174.10" y1="539.60" x2="174.10" y2="542.20" stroke="#111" stroke-width="1.05"/>
<rect x="65.60" y="523.20" width="13.00" height="16.40" fill="#fff" stroke="#111" stroke-width="1.5"/>
<rect x="84.60" y="531.70" width="13.10" height="7.90" fill="#fff" stroke="#111" stroke-width="1.5"/>
<rect x="104.00" y="496.00" width="12.70" height="43.60" fill="#fff" stroke="#111" stroke-width="1.5"/>
<rect x="129.80" y="490.00" width="13.30" height="49.60" fill="#fff" stroke="#111" stroke-width="1.5"/>
<rect x="148.60" y="465.70" width="13.30" height="73.90" fill="#fff" stroke="#111" stroke-width="1.5"/>
<rect x="167.50" y="462.30" width="13.20" height="77.30" fill="#fff" stroke="#111" stroke-width="1.5"/>
<line x1="72.10" y1="520.50" x2="72.10" y2="526.00" stroke="#111" stroke-width="0.8"/>
<line x1="69.90" y1="520.50" x2="74.30" y2="520.50" stroke="#111" stroke-width="0.8"/>
<line x1="69.90" y1="526.00" x2="74.30" y2="526.00" stroke="#111" stroke-width="0.8"/>
<line x1="91.10" y1="528.50" x2="91.10" y2="534.80" stroke="#111" stroke-width="0.8"/>
<line x1="88.90" y1="528.50" x2="93.30" y2="528.50" stroke="#111" stroke-width="0.8"/>
<line x1="88.90" y1="534.80" x2="93.30" y2="534.80" stroke="#111" stroke-width="0.8"/>
<line x1="110.30" y1="488.50" x2="110.30" y2="506.70" stroke="#111" stroke-width="0.8"/>
<line x1="107.90" y1="488.50" x2="112.70" y2="488.50" stroke="#111" stroke-width="0.8"/>
<line x1="107.90" y1="506.70" x2="112.70" y2="506.70" stroke="#111" stroke-width="0.8"/>
<line x1="136.40" y1="487.30" x2="136.40" y2="492.60" stroke="#111" stroke-width="0.8"/>
<line x1="134.20" y1="487.30" x2="138.60" y2="487.30" stroke="#111" stroke-width="0.8"/>
<line x1="134.20" y1="492.60" x2="138.60" y2="492.60" stroke="#111" stroke-width="0.8"/>
<line x1="155.20" y1="459.30" x2="155.20" y2="471.60" stroke="#111" stroke-width="0.8"/>
<line x1="152.80" y1="459.30" x2="157.60" y2="459.30" stroke="#111" stroke-width="0.8"/>
<line x1="152.80" y1="471.60" x2="157.60" y2="471.60" stroke="#111" stroke-width="0.8"/>
<line x1="174.10" y1="458.10" x2="174.10" y2="466.70" stroke="#111" stroke-width="0.8"/>
<line x1="171.70" y1="458.10" x2="176.50" y2="458.10" stroke="#111" stroke-width="0.8"/>
<line x1="171.70" y1="466.70" x2="176.50" y2="466.70" stroke="#111" stroke-width="0.8"/>
<circle cx="68.90" cy="521.30" r="1.7999999999999998" fill="#111"/>
<rect x="71.14" y="522.54" width="3.12" height="3.12" fill="#111"/>
<polygon points="73.07,524.22 77.12,524.22 75.10,520.78" fill="#111"/>
<circle cx="90.70" cy="528.50" r="1.92" fill="#111"/>
<rect x="87.52" y="532.82" width="3.36" height="3.36" fill="#111"/>
<polygon points="92.47,534.22 96.53,534.22 94.50,530.78" fill="#111"/>
<polygon points="105.54,490.73 109.86,490.73 107.70,487.06" fill="#111"/>
<polygon points="110.97,496.92 115.03,496.92 113.00,493.48" fill="#111"/>
<polygon points="108.44,503.77 112.76,503.77 110.60,507.44" fill="#111"/>
<circle cx="132.80" cy="487.50" r="1.7999999999999998" fill="#111"/>
<rect x="134.24" y="490.84" width="3.12" height="3.12" fill="#111"/>
<polygon points="137.67,490.78 141.72,490.78 139.70,494.22" fill="#111"/>
<circle cx="155.60" cy="459.30" r="1.92" fill="#111"/>
<rect x="150.92" y="468.92" width="3.36" height="3.36" fill="#111"/>
<polygon points="155.57,468.32 159.62,468.32 157.60,464.88" fill="#111"/>
<polygon points="172.24,458.23 176.56,458.23 174.40,454.56" fill="#111"/>
<polygon points="169.78,465.08 173.83,465.08 171.80,468.52" fill="#111"/>
<polygon points="175.38,465.08 179.43,465.08 177.40,468.52" fill="#111"/>
<line x1="73.60" y1="470.60" x2="138.70" y2="470.60" stroke="#555" stroke-width="0.7"/>
<text x="104.00" y="471.20" font-size="7.4" text-anchor="middle" font-weight="bold" fill="#111" stroke="#111" stroke-width="0.35">****</text>
<line x1="93.10" y1="480.50" x2="109.60" y2="480.50" stroke="#555" stroke-width="0.7"/>
<text x="101.70" y="481.10" font-size="7.4" text-anchor="middle" font-weight="bold" fill="#111" stroke="#111" stroke-width="0.35">**</text>
<line x1="74.00" y1="515.00" x2="92.60" y2="515.00" stroke="#555" stroke-width="0.7"/>
<text x="83.50" y="515.60" font-size="7.4" text-anchor="middle" font-weight="bold" fill="#111" stroke="#111" stroke-width="0.35">*</text>
<line x1="136.20" y1="449.80" x2="161.10" y2="449.80" stroke="#555" stroke-width="0.7"/>
<text x="147.60" y="450.40" font-size="7.4" text-anchor="middle" font-weight="bold" fill="#111" stroke="#111" stroke-width="0.35">**</text>
<line x1="154.00" y1="444.50" x2="181.70" y2="444.50" stroke="#555" stroke-width="0.7"/>
<text x="167.80" y="441.60" font-size="7.4" text-anchor="middle" fill="#1e1e1e" stroke="#1e1e1e" stroke-width="0.22">NS</text>
<text x="57.30" y="549.60" font-size="7.4" text-anchor="end" fill="#1e1e1e" stroke="#1e1e1e" stroke-width="0.22">Fibronectin:</text>
<text x="57.30" y="558.50" font-size="7.4" text-anchor="end" fill="#1e1e1e" stroke="#1e1e1e" stroke-width="0.22">Anti-KLH:</text>
<text x="57.30" y="567.40" font-size="7.4" text-anchor="end" fill="#1e1e1e" stroke="#1e1e1e" stroke-width="0.22">Anti-ILT3:</text>
<text x="92.40" y="550.40" font-size="7.6" text-anchor="middle" fill="#333" stroke="#333" stroke-width="0.22">+</text>
<text x="110.70" y="550.40" font-size="7.6" text-anchor="middle" fill="#333" stroke="#333" stroke-width="0.22">+</text>
<text x="156.00" y="550.40" font-size="7.6" text-anchor="middle" fill="#333" stroke="#333" stroke-width="0.22">+</text>
<text x="174.10" y="550.40" font-size="7.6" text-anchor="middle" fill="#333" stroke="#333" stroke-width="0.22">+</text>
<text x="92.40" y="558.40" font-size="7.6" text-anchor="middle" fill="#333" stroke="#333" stroke-width="0.22">+</text>
<text x="156.00" y="558.40" font-size="7.6" text-anchor="middle" fill="#333" stroke="#333" stroke-width="0.22">+</text>
<text x="110.70" y="567.30" font-size="7.6" text-anchor="middle" fill="#333" stroke="#333" stroke-width="0.22">+</text>
<text x="174.10" y="567.30" font-size="7.6" text-anchor="middle" fill="#333" stroke="#333" stroke-width="0.22">+</text>
<line x1="64.40" y1="570.00" x2="119.10" y2="570.00" stroke="#222" stroke-width="0.8"/>
<text x="91.00" y="577.40" font-size="7.4" text-anchor="middle" fill="#1e1e1e" stroke="#1e1e1e" stroke-width="0.22">Control KO</text>
<line x1="131.70" y1="570.00" x2="187.00" y2="570.00" stroke="#222" stroke-width="0.8"/>
<text x="161.40" y="577.40" font-size="7.4" text-anchor="middle" fill="#1e1e1e" stroke="#1e1e1e" stroke-width="0.22">ILT3 KO</text>
<ellipse cx="238.4" cy="117.8" rx="40.4" ry="37.9" fill="none" stroke="#3ea4c8" stroke-width="1.3"/>
<ellipse cx="302.8" cy="143.45" rx="81.2" ry="76.05" fill="none" stroke="#d3344b" stroke-width="1.3"/>
<ellipse cx="313.0" cy="99.4" rx="61.0" ry="57.1" fill="none" stroke="#1a1a1a" stroke-width="1.3"/>
<text x="192.30" y="68.90" font-size="7.4" text-anchor="middle" fill="#1e1e1e" stroke="#1e1e1e" stroke-width="0.22">Fibronectin vs. PBS</text>
<text x="193.80" y="77.60" font-size="7.4" text-anchor="middle" fill="#1e1e1e" stroke="#1e1e1e" stroke-width="0.22">(anti-KLH)</text>
<text x="311.70" y="29.30" font-size="7.4" text-anchor="middle" fill="#1e1e1e" stroke="#1e1e1e" stroke-width="0.22">PBS</text>
<text x="312.50" y="38.70" font-size="7.4" text-anchor="middle" fill="#1e1e1e" stroke="#1e1e1e" stroke-width="0.22">anti-KLH vs. anti-ILT3</text>
<text x="307.00" y="231.80" font-size="7.4" text-anchor="middle" fill="#1e1e1e" stroke="#1e1e1e" stroke-width="0.22">Fibronectin</text>
<text x="307.80" y="241.80" font-size="7.4" text-anchor="middle" fill="#1e1e1e" stroke="#1e1e1e" stroke-width="0.22">anti-KLH vs. anti-ILT3</text>
<text x="217.90" y="99.60" font-size="7.2" text-anchor="middle" font-weight="bold" fill="#111" stroke="#111" stroke-width="0.1">6</text>
<text x="217.40" y="114.60" font-size="7.4" text-anchor="middle" fill="#52acd2" stroke="#52acd2" stroke-width="0.1">5%</text>
<text x="241.30" y="118.90" font-size="7.2" text-anchor="middle" font-weight="bold" fill="#111" stroke="#111" stroke-width="0.1">54</text>
<text x="243.50" y="133.20" font-size="7.4" text-anchor="middle" fill="#52acd2" stroke="#52acd2" stroke-width="0.1">42%</text>
<text x="243.30" y="141.80" font-size="7.4" text-anchor="middle" fill="#d9485a" stroke="#d9485a" stroke-width="0.1">6%</text>
<text x="261.60" y="98.30" font-size="7.2" text-anchor="middle" font-weight="bold" fill="#111" stroke="#111" stroke-width="0.1">69</text>
<text x="268.20" y="111.30" font-size="7.4" text-anchor="middle" fill="#52acd2" stroke="#52acd2" stroke-width="0.1">53%</text>
<text x="268.20" y="119.60" font-size="7.4" text-anchor="middle" fill="#1e1e1e" stroke="#1e1e1e" stroke-width="0.22">18%</text>
<text x="268.60" y="127.80" font-size="7.4" text-anchor="middle" fill="#d9485a" stroke="#d9485a" stroke-width="0.1">7%</text>
<text x="313.40" y="53.40" font-size="7.2" text-anchor="middle" font-weight="bold" fill="#111" stroke="#111" stroke-width="0.1">39</text>
<text x="315.50" y="63.60" font-size="7.4" text-anchor="middle" fill="#1e1e1e" stroke="#1e1e1e" stroke-width="0.22">10%</text>
<text x="315.20" y="96.30" font-size="7.2" text-anchor="middle" font-weight="bold" fill="#111" stroke="#111" stroke-width="0.1">274</text>
<text x="315.30" y="107.40" font-size="7.4" text-anchor="middle" fill="#1e1e1e" stroke="#1e1e1e" stroke-width="0.22">72%</text>
<text x="315.30" y="116.80" font-size="7.4" text-anchor="middle" fill="#d9485a" stroke="#d9485a" stroke-width="0.1">28%</text>
<text x="302.70" y="177.00" font-size="7.2" text-anchor="middle" font-weight="bold" fill="#111" stroke="#111" stroke-width="0.1">563</text>
<text x="304.40" y="187.50" font-size="7.4" text-anchor="middle" fill="#d9485a" stroke="#d9485a" stroke-width="0.1">59%</text>
<rect x="414.4" y="27.3" width="9.9" height="6.2" fill="#43bccb"/>
<rect x="414.4" y="33.5" width="9.9" height="5.8" fill="#ef8a84"/>
<text x="426.10" y="32.10" font-size="7.4" text-anchor="start" fill="#1e1e1e" stroke="#1e1e1e" stroke-width="0.22">Fibronectin vs. PBS</text>
<text x="426.10" y="38.50" font-size="7.4" text-anchor="start" fill="#1e1e1e" stroke="#1e1e1e" stroke-width="0.22">ILT3 blockade vs. KLH</text>
<text x="426.10" y="48.60" font-size="7.4" text-anchor="start" fill="#1e1e1e" stroke="#1e1e1e" stroke-width="0.22">(immobilized fibronectin)</text>
<rect x="457.2" y="54.0" width="20.90" height="7.6" fill="#43bccb"/>
<rect x="478.10" y="54.0" width="20.90" height="7.6" fill="#ef8a84"/>
<line x1="464.17" y1="54" x2="464.17" y2="61.6" stroke="#fff" stroke-opacity="0.35" stroke-width="0.4"/>
<line x1="471.13" y1="54" x2="471.13" y2="61.6" stroke="#fff" stroke-opacity="0.35" stroke-width="0.4"/>
<line x1="478.10" y1="54" x2="478.10" y2="61.6" stroke="#fff" stroke-opacity="0.35" stroke-width="0.4"/>
<line x1="485.07" y1="54" x2="485.07" y2="61.6" stroke="#fff" stroke-opacity="0.35" stroke-width="0.4"/>
<line x1="492.03" y1="54" x2="492.03" y2="61.6" stroke="#fff" stroke-opacity="0.35" stroke-width="0.4"/>
<rect x="457.20" y="64.50" width="6.97" height="2.990" fill="#f6e5ad" stroke="#8c8c8c" stroke-width="0.5"/>
<rect x="464.17" y="64.50" width="6.97" height="2.990" fill="#f6e5ad" stroke="#8c8c8c" stroke-width="0.5"/>
<rect x="471.13" y="64.50" width="6.97" height="2.990" fill="#f6e6af" stroke="#8c8c8c" stroke-width="0.5"/>
<rect x="478.10" y="64.50" width="6.97" height="2.990" fill="#dae4e8" stroke="#8c8c8c" stroke-width="0.5"/>
<rect x="485.07" y="64.50" width="6.97" height="2.990" fill="#b9d0e3" stroke="#8c8c8c" stroke-width="0.5"/>
<rect x="492.03" y="64.50" width="6.97" height="2.990" fill="#c9dae6" stroke="#8c8c8c" stroke-width="0.5"/>
<rect x="457.20" y="67.49" width="6.97" height="2.990" fill="#f7e2a0" stroke="#8c8c8c" stroke-width="0.5"/>
<rect x="464.17" y="67.49" width="6.97" height="2.990" fill="#f6e5ad" stroke="#8c8c8c" stroke-width="0.5"/>
<rect x="471.13" y="67.49" width="6.97" height="2.990" fill="#f7e3a3" stroke="#8c8c8c" stroke-width="0.5"/>
<rect x="478.10" y="67.49" width="6.97" height="2.990" fill="#e5ebea" stroke="#8c8c8c" stroke-width="0.5"/>
<rect x="485.07" y="67.49" width="6.97" height="2.990" fill="#d6e2e8" stroke="#8c8c8c" stroke-width="0.5"/>
<rect x="492.03" y="67.49" width="6.97" height="2.990" fill="#d2dfe7" stroke="#8c8c8c" stroke-width="0.5"/>
<rect x="457.20" y="70.48" width="6.97" height="2.990" fill="#f6e8bb" stroke="#8c8c8c" stroke-width="0.5"/>
<rect x="464.17" y="70.48" width="6.97" height="2.990" fill="#f6e5aa" stroke="#8c8c8c" stroke-width="0.5"/>
<rect x="471.13" y="70.48" width="6.97" height="2.990" fill="#f7e4a8" stroke="#8c8c8c" stroke-width="0.5"/>
<rect x="478.10" y="70.48" width="6.97" height="2.990" fill="#eaedeb" stroke="#8c8c8c" stroke-width="0.5"/>
<rect x="485.07" y="70.48" width="6.97" height="2.990" fill="#a7c5e1" stroke="#8c8c8c" stroke-width="0.5"/>
<rect x="492.03" y="70.48" width="6.97" height="2.990" fill="#a6c4e0" stroke="#8c8c8c" stroke-width="0.5"/>
<rect x="457.20" y="73.47" width="6.97" height="2.990" fill="#f6e7b3" stroke="#8c8c8c" stroke-width="0.5"/>
<rect x="464.17" y="73.47" width="6.97" height="2.990" fill="#f6e7b4" stroke="#8c8c8c" stroke-width="0.5"/>
<rect x="471.13" y="73.47" width="6.97" height="2.990" fill="#f6e4aa" stroke="#8c8c8c" stroke-width="0.5"/>
<rect x="478.10" y="73.47" width="6.97" height="2.990" fill="#dfe7e9" stroke="#8c8c8c" stroke-width="0.5"/>
<rect x="485.07" y="73.47" width="6.97" height="2.990" fill="#d9e4e8" stroke="#8c8c8c" stroke-width="0.5"/>
<rect x="492.03" y="73.47" width="6.97" height="2.990" fill="#bfd4e4" stroke="#8c8c8c" stroke-width="0.5"/>
<rect x="457.20" y="76.46" width="6.97" height="2.990" fill="#f7e4a8" stroke="#8c8c8c" stroke-width="0.5"/>
<rect x="464.17" y="76.46" width="6.97" height="2.990" fill="#f6e5ad" stroke="#8c8c8c" stroke-width="0.5"/>
<rect x="471.13" y="76.46" width="6.97" height="2.990" fill="#f6e7b3" stroke="#8c8c8c" stroke-width="0.5"/>
<rect x="478.10" y="76.46" width="6.97" height="2.990" fill="#f4efdb" stroke="#8c8c8c" stroke-width="0.5"/>
<rect x="485.07" y="76.46" width="6.97" height="2.990" fill="#dae4e8" stroke="#8c8c8c" stroke-width="0.5"/>
<rect x="492.03" y="76.46" width="6.97" height="2.990" fill="#e8edea" stroke="#8c8c8c" stroke-width="0.5"/>
<rect x="457.20" y="79.45" width="6.97" height="2.990" fill="#f6e6b1" stroke="#8c8c8c" stroke-width="0.5"/>
<rect x="464.17" y="79.45" width="6.97" height="2.990" fill="#f6e7b6" stroke="#8c8c8c" stroke-width="0.5"/>
<rect x="471.13" y="79.45" width="6.97" height="2.990" fill="#f6e6b0" stroke="#8c8c8c" stroke-width="0.5"/>
<rect x="478.10" y="79.45" width="6.97" height="2.990" fill="#dee7e9" stroke="#8c8c8c" stroke-width="0.5"/>
<rect x="485.07" y="79.45" width="6.97" height="2.990" fill="#dce5e9" stroke="#8c8c8c" stroke-width="0.5"/>
<rect x="492.03" y="79.45" width="6.97" height="2.990" fill="#d3e0e7" stroke="#8c8c8c" stroke-width="0.5"/>
<rect x="457.20" y="82.44" width="6.97" height="2.990" fill="#f6e6af" stroke="#8c8c8c" stroke-width="0.5"/>
<rect x="464.17" y="82.44" width="6.97" height="2.990" fill="#f6e8b8" stroke="#8c8c8c" stroke-width="0.5"/>
<rect x="471.13" y="82.44" width="6.97" height="2.990" fill="#f6e6b2" stroke="#8c8c8c" stroke-width="0.5"/>
<rect x="478.10" y="82.44" width="6.97" height="2.990" fill="#f3f2e7" stroke="#8c8c8c" stroke-width="0.5"/>
<rect x="485.07" y="82.44" width="6.97" height="2.990" fill="#bbd2e4" stroke="#8c8c8c" stroke-width="0.5"/>
<rect x="492.03" y="82.44" width="6.97" height="2.990" fill="#d3e0e7" stroke="#8c8c8c" stroke-width="0.5"/>
<rect x="457.20" y="85.43" width="6.97" height="2.990" fill="#f7e4a7" stroke="#8c8c8c" stroke-width="0.5"/>
<rect x="464.17" y="85.43" width="6.97" height="2.990" fill="#f6e8bc" stroke="#8c8c8c" stroke-width="0.5"/>
<rect x="471.13" y="85.43" width="6.97" height="2.990" fill="#f6e5ac" stroke="#8c8c8c" stroke-width="0.5"/>
<rect x="478.10" y="85.43" width="6.97" height="2.990" fill="#f3f1e5" stroke="#8c8c8c" stroke-width="0.5"/>
<rect x="485.07" y="85.43" width="6.97" height="2.990" fill="#9ebedc" stroke="#8c8c8c" stroke-width="0.5"/>
<rect x="492.03" y="85.43" width="6.97" height="2.990" fill="#c6d8e5" stroke="#8c8c8c" stroke-width="0.5"/>
<rect x="457.20" y="88.42" width="6.97" height="2.990" fill="#f6e5ac" stroke="#8c8c8c" stroke-width="0.5"/>
<rect x="464.17" y="88.42" width="6.97" height="2.990" fill="#f6e7b7" stroke="#8c8c8c" stroke-width="0.5"/>
<rect x="471.13" y="88.42" width="6.97" height="2.990" fill="#f7e4a8" stroke="#8c8c8c" stroke-width="0.5"/>
<rect x="478.10" y="88.42" width="6.97" height="2.990" fill="#dfe7e9" stroke="#8c8c8c" stroke-width="0.5"/>
<rect x="485.07" y="88.42" width="6.97" height="2.990" fill="#adc9e2" stroke="#8c8c8c" stroke-width="0.5"/>
<rect x="492.03" y="88.42" width="6.97" height="2.990" fill="#e0e8e9" stroke="#8c8c8c" stroke-width="0.5"/>
<rect x="457.20" y="91.41" width="6.97" height="2.990" fill="#f7e3a4" stroke="#8c8c8c" stroke-width="0.5"/>
<rect x="464.17" y="91.41" width="6.97" height="2.990" fill="#f6e4a9" stroke="#8c8c8c" stroke-width="0.5"/>
<rect x="471.13" y="91.41" width="6.97" height="2.990" fill="#f7e29f" stroke="#8c8c8c" stroke-width="0.5"/>
<rect x="478.10" y="91.41" width="6.97" height="2.990" fill="#e7ecea" stroke="#8c8c8c" stroke-width="0.5"/>
<rect x="485.07" y="91.41" width="6.97" height="2.990" fill="#d0dee7" stroke="#8c8c8c" stroke-width="0.5"/>
<rect x="492.03" y="91.41" width="6.97" height="2.990" fill="#6691bf" stroke="#8c8c8c" stroke-width="0.5"/>
<rect x="457.20" y="94.40" width="6.97" height="2.990" fill="#f7e3a5" stroke="#8c8c8c" stroke-width="0.5"/>
<rect x="464.17" y="94.40" width="6.97" height="2.990" fill="#f6e7b5" stroke="#8c8c8c" stroke-width="0.5"/>
<rect x="471.13" y="94.40" width="6.97" height="2.990" fill="#f6e6b1" stroke="#8c8c8c" stroke-width="0.5"/>
<rect x="478.10" y="94.40" width="6.97" height="2.990" fill="#c9dae6" stroke="#8c8c8c" stroke-width="0.5"/>
<rect x="485.07" y="94.40" width="6.97" height="2.990" fill="#b8cfe3" stroke="#8c8c8c" stroke-width="0.5"/>
<rect x="492.03" y="94.40" width="6.97" height="2.990" fill="#6691bf" stroke="#8c8c8c" stroke-width="0.5"/>
<rect x="457.20" y="97.39" width="6.97" height="2.990" fill="#f7e29e" stroke="#8c8c8c" stroke-width="0.5"/>
<rect x="464.17" y="97.39" width="6.97" height="2.990" fill="#f5e9c0" stroke="#8c8c8c" stroke-width="0.5"/>
<rect x="471.13" y="97.39" width="6.97" height="2.990" fill="#f6e8bb" stroke="#8c8c8c" stroke-width="0.5"/>
<rect x="478.10" y="97.39" width="6.97" height="2.990" fill="#e5eaea" stroke="#8c8c8c" stroke-width="0.5"/>
<rect x="485.07" y="97.39" width="6.97" height="2.990" fill="#eef0eb" stroke="#8c8c8c" stroke-width="0.5"/>
<rect x="492.03" y="97.39" width="6.97" height="2.990" fill="#dbe4e8" stroke="#8c8c8c" stroke-width="0.5"/>
<rect x="457.20" y="100.38" width="6.97" height="2.990" fill="#f5e9bd" stroke="#8c8c8c" stroke-width="0.5"/>
<rect x="464.17" y="100.38" width="6.97" height="2.990" fill="#f5eac4" stroke="#8c8c8c" stroke-width="0.5"/>
<rect x="471.13" y="100.38" width="6.97" height="2.990" fill="#f6e4a9" stroke="#8c8c8c" stroke-width="0.5"/>
<rect x="478.10" y="100.38" width="6.97" height="2.990" fill="#d2dfe7" stroke="#8c8c8c" stroke-width="0.5"/>
<rect x="485.07" y="100.38" width="6.97" height="2.990" fill="#b4cde3" stroke="#8c8c8c" stroke-width="0.5"/>
<rect x="492.03" y="100.38" width="6.97" height="2.990" fill="#e3eaea" stroke="#8c8c8c" stroke-width="0.5"/>
<rect x="457.20" y="103.37" width="6.97" height="2.990" fill="#f7e2a0" stroke="#8c8c8c" stroke-width="0.5"/>
<rect x="464.17" y="103.37" width="6.97" height="2.990" fill="#f6e6af" stroke="#8c8c8c" stroke-width="0.5"/>
<rect x="471.13" y="103.37" width="6.97" height="2.990" fill="#f6e5aa" stroke="#8c8c8c" stroke-width="0.5"/>
<rect x="478.10" y="103.37" width="6.97" height="2.990" fill="#e8edea" stroke="#8c8c8c" stroke-width="0.5"/>
<rect x="485.07" y="103.37" width="6.97" height="2.990" fill="#f1f2ec" stroke="#8c8c8c" stroke-width="0.5"/>
<rect x="492.03" y="103.37" width="6.97" height="2.990" fill="#dbe5e9" stroke="#8c8c8c" stroke-width="0.5"/>
<rect x="457.20" y="106.36" width="6.97" height="2.990" fill="#f7e4a6" stroke="#8c8c8c" stroke-width="0.5"/>
<rect x="464.17" y="106.36" width="6.97" height="2.990" fill="#f6e5ac" stroke="#8c8c8c" stroke-width="0.5"/>
<rect x="471.13" y="106.36" width="6.97" height="2.990" fill="#f6e8bc" stroke="#8c8c8c" stroke-width="0.5"/>
<rect x="478.10" y="106.36" width="6.97" height="2.990" fill="#f3f2e5" stroke="#8c8c8c" stroke-width="0.5"/>
<rect x="485.07" y="106.36" width="6.97" height="2.990" fill="#e3e9ea" stroke="#8c8c8c" stroke-width="0.5"/>
<rect x="492.03" y="106.36" width="6.97" height="2.990" fill="#d9e4e8" stroke="#8c8c8c" stroke-width="0.5"/>
<rect x="457.20" y="109.35" width="6.97" height="2.990" fill="#f5e9be" stroke="#8c8c8c" stroke-width="0.5"/>
<rect x="464.17" y="109.35" width="6.97" height="2.990" fill="#f6e7b5" stroke="#8c8c8c" stroke-width="0.5"/>
<rect x="471.13" y="109.35" width="6.97" height="2.990" fill="#f7e3a5" stroke="#8c8c8c" stroke-width="0.5"/>
<rect x="478.10" y="109.35" width="6.97" height="2.990" fill="#bed3e4" stroke="#8c8c8c" stroke-width="0.5"/>
<rect x="485.07" y="109.35" width="6.97" height="2.990" fill="#c9dae6" stroke="#8c8c8c" stroke-width="0.5"/>
<rect x="492.03" y="109.35" width="6.97" height="2.990" fill="#e4eaea" stroke="#8c8c8c" stroke-width="0.5"/>
<rect x="457.20" y="112.34" width="6.97" height="2.990" fill="#f6e7b7" stroke="#8c8c8c" stroke-width="0.5"/>
<rect x="464.17" y="112.34" width="6.97" height="2.990" fill="#f7e3a4" stroke="#8c8c8c" stroke-width="0.5"/>
<rect x="471.13" y="112.34" width="6.97" height="2.990" fill="#f7e4a7" stroke="#8c8c8c" stroke-width="0.5"/>
<rect x="478.10" y="112.34" width="6.97" height="2.990" fill="#dde6e9" stroke="#8c8c8c" stroke-width="0.5"/>
<rect x="485.07" y="112.34" width="6.97" height="2.990" fill="#d5e1e8" stroke="#8c8c8c" stroke-width="0.5"/>
<rect x="492.03" y="112.34" width="6.97" height="2.990" fill="#dce5e9" stroke="#8c8c8c" stroke-width="0.5"/>
<rect x="457.20" y="115.33" width="6.97" height="2.990" fill="#f6e4aa" stroke="#8c8c8c" stroke-width="0.5"/>
<rect x="464.17" y="115.33" width="6.97" height="2.990" fill="#f7e4a8" stroke="#8c8c8c" stroke-width="0.5"/>
<rect x="471.13" y="115.33" width="6.97" height="2.990" fill="#f6e7b3" stroke="#8c8c8c" stroke-width="0.5"/>
<rect x="478.10" y="115.33" width="6.97" height="2.990" fill="#d8e3e8" stroke="#8c8c8c" stroke-width="0.5"/>
<rect x="485.07" y="115.33" width="6.97" height="2.990" fill="#e5ebea" stroke="#8c8c8c" stroke-width="0.5"/>
<rect x="492.03" y="115.33" width="6.97" height="2.990" fill="#cedde7" stroke="#8c8c8c" stroke-width="0.5"/>
<rect x="457.20" y="118.32" width="6.97" height="2.990" fill="#f6e7b3" stroke="#8c8c8c" stroke-width="0.5"/>
<rect x="464.17" y="118.32" width="6.97" height="2.990" fill="#f6e4a9" stroke="#8c8c8c" stroke-width="0.5"/>
<rect x="471.13" y="118.32" width="6.97" height="2.990" fill="#f7e29f" stroke="#8c8c8c" stroke-width="0.5"/>
<rect x="478.10" y="118.32" width="6.97" height="2.990" fill="#d8e3e8" stroke="#8c8c8c" stroke-width="0.5"/>
<rect x="485.07" y="118.32" width="6.97" height="2.990" fill="#aecae2" stroke="#8c8c8c" stroke-width="0.5"/>
<rect x="492.03" y="118.32" width="6.97" height="2.990" fill="#cadbe6" stroke="#8c8c8c" stroke-width="0.5"/>
<rect x="457.20" y="121.31" width="6.97" height="2.990" fill="#f6e5ac" stroke="#8c8c8c" stroke-width="0.5"/>
<rect x="464.17" y="121.31" width="6.97" height="2.990" fill="#f6e6b3" stroke="#8c8c8c" stroke-width="0.5"/>
<rect x="471.13" y="121.31" width="6.97" height="2.990" fill="#f7e29f" stroke="#8c8c8c" stroke-width="0.5"/>
<rect x="478.10" y="121.31" width="6.97" height="2.990" fill="#cddce6" stroke="#8c8c8c" stroke-width="0.5"/>
<rect x="485.07" y="121.31" width="6.97" height="2.990" fill="#eaeeeb" stroke="#8c8c8c" stroke-width="0.5"/>
<rect x="492.03" y="121.31" width="6.97" height="2.990" fill="#b1cbe2" stroke="#8c8c8c" stroke-width="0.5"/>
<rect x="457.20" y="124.30" width="6.97" height="2.990" fill="#f6e6b2" stroke="#8c8c8c" stroke-width="0.5"/>
<rect x="464.17" y="124.30" width="6.97" height="2.990" fill="#f6e5ac" stroke="#8c8c8c" stroke-width="0.5"/>
<rect x="471.13" y="124.30" width="6.97" height="2.990" fill="#f7e3a2" stroke="#8c8c8c" stroke-width="0.5"/>
<rect x="478.10" y="124.30" width="6.97" height="2.990" fill="#f0f1ec" stroke="#8c8c8c" stroke-width="0.5"/>
<rect x="485.07" y="124.30" width="6.97" height="2.990" fill="#d5e1e8" stroke="#8c8c8c" stroke-width="0.5"/>
<rect x="492.03" y="124.30" width="6.97" height="2.990" fill="#d1dee7" stroke="#8c8c8c" stroke-width="0.5"/>
<rect x="457.20" y="127.29" width="6.97" height="2.990" fill="#f6e4a9" stroke="#8c8c8c" stroke-width="0.5"/>
<rect x="464.17" y="127.29" width="6.97" height="2.990" fill="#f6e5ac" stroke="#8c8c8c" stroke-width="0.5"/>
<rect x="471.13" y="127.29" width="6.97" height="2.990" fill="#f6e6ae" stroke="#8c8c8c" stroke-width="0.5"/>
<rect x="478.10" y="127.29" width="6.97" height="2.990" fill="#e5ebea" stroke="#8c8c8c" stroke-width="0.5"/>
<rect x="485.07" y="127.29" width="6.97" height="2.990" fill="#dae4e8" stroke="#8c8c8c" stroke-width="0.5"/>
<rect x="492.03" y="127.29" width="6.97" height="2.990" fill="#cedde7" stroke="#8c8c8c" stroke-width="0.5"/>
<rect x="457.20" y="130.28" width="6.97" height="2.990" fill="#f7e3a3" stroke="#8c8c8c" stroke-width="0.5"/>
<rect x="464.17" y="130.28" width="6.97" height="2.990" fill="#f6e5ac" stroke="#8c8c8c" stroke-width="0.5"/>
<rect x="471.13" y="130.28" width="6.97" height="2.990" fill="#f7e199" stroke="#8c8c8c" stroke-width="0.5"/>
<rect x="478.10" y="130.28" width="6.97" height="2.990" fill="#e6ebea" stroke="#8c8c8c" stroke-width="0.5"/>
<rect x="485.07" y="130.28" width="6.97" height="2.990" fill="#c4d7e5" stroke="#8c8c8c" stroke-width="0.5"/>
<rect x="492.03" y="130.28" width="6.97" height="2.990" fill="#c5d7e5" stroke="#8c8c8c" stroke-width="0.5"/>
<rect x="457.20" y="133.27" width="6.97" height="2.990" fill="#f6e5ab" stroke="#8c8c8c" stroke-width="0.5"/>
<rect x="464.17" y="133.27" width="6.97" height="2.990" fill="#f6e4a9" stroke="#8c8c8c" stroke-width="0.5"/>
<rect x="471.13" y="133.27" width="6.97" height="2.990" fill="#f6e6b0" stroke="#8c8c8c" stroke-width="0.5"/>
<rect x="478.10" y="133.27" width="6.97" height="2.990" fill="#9fbedc" stroke="#8c8c8c" stroke-width="0.5"/>
<rect x="485.07" y="133.27" width="6.97" height="2.990" fill="#95b7d7" stroke="#8c8c8c" stroke-width="0.5"/>
<rect x="492.03" y="133.27" width="6.97" height="2.990" fill="#9fbedc" stroke="#8c8c8c" stroke-width="0.5"/>
<rect x="457.20" y="136.26" width="6.97" height="2.990" fill="#f6e7b6" stroke="#8c8c8c" stroke-width="0.5"/>
<rect x="464.17" y="136.26" width="6.97" height="2.990" fill="#f6e6af" stroke="#8c8c8c" stroke-width="0.5"/>
<rect x="471.13" y="136.26" width="6.97" height="2.990" fill="#f6e4a9" stroke="#8c8c8c" stroke-width="0.5"/>
<rect x="478.10" y="136.26" width="6.97" height="2.990" fill="#9fbedc" stroke="#8c8c8c" stroke-width="0.5"/>
<rect x="485.07" y="136.26" width="6.97" height="2.990" fill="#95b7d7" stroke="#8c8c8c" stroke-width="0.5"/>
<rect x="492.03" y="136.26" width="6.97" height="2.990" fill="#9fbedc" stroke="#8c8c8c" stroke-width="0.5"/>
<rect x="457.20" y="139.25" width="6.97" height="2.990" fill="#d8e3e8" stroke="#8c8c8c" stroke-width="0.5"/>
<rect x="464.17" y="139.25" width="6.97" height="2.990" fill="#d5e1e8" stroke="#8c8c8c" stroke-width="0.5"/>
<rect x="471.13" y="139.25" width="6.97" height="2.990" fill="#f6e8bb" stroke="#8c8c8c" stroke-width="0.5"/>
<rect x="478.10" y="139.25" width="6.97" height="2.990" fill="#f8df90" stroke="#8c8c8c" stroke-width="0.5"/>
<rect x="485.07" y="139.25" width="6.97" height="2.990" fill="#f7e29f" stroke="#8c8c8c" stroke-width="0.5"/>
<rect x="492.03" y="139.25" width="6.97" height="2.990" fill="#f8e094" stroke="#8c8c8c" stroke-width="0.5"/>
<rect x="457.20" y="142.24" width="6.97" height="2.990" fill="#ccdce6" stroke="#8c8c8c" stroke-width="0.5"/>
<rect x="464.17" y="142.24" width="6.97" height="2.990" fill="#dfe7e9" stroke="#8c8c8c" stroke-width="0.5"/>
<rect x="471.13" y="142.24" width="6.97" height="2.990" fill="#b8d0e3" stroke="#8c8c8c" stroke-width="0.5"/>
<rect x="478.10" y="142.24" width="6.97" height="2.990" fill="#f7e4a8" stroke="#8c8c8c" stroke-width="0.5"/>
<rect x="485.07" y="142.24" width="6.97" height="2.990" fill="#f3b676" stroke="#8c8c8c" stroke-width="0.5"/>
<rect x="492.03" y="142.24" width="6.97" height="2.990" fill="#f6e6b2" stroke="#8c8c8c" stroke-width="0.5"/>
<rect x="457.20" y="145.23" width="6.97" height="2.990" fill="#d0dee7" stroke="#8c8c8c" stroke-width="0.5"/>
<rect x="464.17" y="145.23" width="6.97" height="2.990" fill="#f3f2e9" stroke="#8c8c8c" stroke-width="0.5"/>
<rect x="471.13" y="145.23" width="6.97" height="2.990" fill="#f4f1e1" stroke="#8c8c8c" stroke-width="0.5"/>
<rect x="478.10" y="145.23" width="6.97" height="2.990" fill="#ee9061" stroke="#8c8c8c" stroke-width="0.5"/>
<rect x="485.07" y="145.23" width="6.97" height="2.990" fill="#ee9061" stroke="#8c8c8c" stroke-width="0.5"/>
<rect x="492.03" y="145.23" width="6.97" height="2.990" fill="#f2b173" stroke="#8c8c8c" stroke-width="0.5"/>
<rect x="457.20" y="148.22" width="6.97" height="2.990" fill="#cadae6" stroke="#8c8c8c" stroke-width="0.5"/>
<rect x="464.17" y="148.22" width="6.97" height="2.990" fill="#eef0eb" stroke="#8c8c8c" stroke-width="0.5"/>
<rect x="471.13" y="148.22" width="6.97" height="2.990" fill="#f4efdb" stroke="#8c8c8c" stroke-width="0.5"/>
<rect x="478.10" y="148.22" width="6.97" height="2.990" fill="#f3f2e8" stroke="#8c8c8c" stroke-width="0.5"/>
<rect x="485.07" y="148.22" width="6.97" height="2.990" fill="#f3b374" stroke="#8c8c8c" stroke-width="0.5"/>
<rect x="492.03" y="148.22" width="6.97" height="2.990" fill="#f6e8ba" stroke="#8c8c8c" stroke-width="0.5"/>
<rect x="457.20" y="151.21" width="6.97" height="2.990" fill="#e1e8e9" stroke="#8c8c8c" stroke-width="0.5"/>
<rect x="464.17" y="151.21" width="6.97" height="2.990" fill="#bfd4e4" stroke="#8c8c8c" stroke-width="0.5"/>
<rect x="471.13" y="151.21" width="6.97" height="2.990" fill="#eff0eb" stroke="#8c8c8c" stroke-width="0.5"/>
<rect x="478.10" y="151.21" width="6.97" height="2.990" fill="#f5c77f" stroke="#8c8c8c" stroke-width="0.5"/>
<rect x="485.07" y="151.21" width="6.97" height="2.990" fill="#f8df91" stroke="#8c8c8c" stroke-width="0.5"/>
<rect x="492.03" y="151.21" width="6.97" height="2.990" fill="#f8dd8c" stroke="#8c8c8c" stroke-width="0.5"/>
<rect x="457.20" y="154.20" width="6.97" height="2.990" fill="#e3eaea" stroke="#8c8c8c" stroke-width="0.5"/>
<rect x="464.17" y="154.20" width="6.97" height="2.990" fill="#e3eaea" stroke="#8c8c8c" stroke-width="0.5"/>
<rect x="471.13" y="154.20" width="6.97" height="2.990" fill="#eaeeeb" stroke="#8c8c8c" stroke-width="0.5"/>
<rect x="478.10" y="154.20" width="6.97" height="2.990" fill="#f4bb79" stroke="#8c8c8c" stroke-width="0.5"/>
<rect x="485.07" y="154.20" width="6.97" height="2.990" fill="#f3b575" stroke="#8c8c8c" stroke-width="0.5"/>
<rect x="492.03" y="154.20" width="6.97" height="2.990" fill="#f7e199" stroke="#8c8c8c" stroke-width="0.5"/>
<rect x="457.20" y="157.19" width="6.97" height="2.990" fill="#f5ebc8" stroke="#8c8c8c" stroke-width="0.5"/>
<rect x="464.17" y="157.19" width="6.97" height="2.990" fill="#c6d8e5" stroke="#8c8c8c" stroke-width="0.5"/>
<rect x="471.13" y="157.19" width="6.97" height="2.990" fill="#f4f0e0" stroke="#8c8c8c" stroke-width="0.5"/>
<rect x="478.10" y="157.19" width="6.97" height="2.990" fill="#f7e3a2" stroke="#8c8c8c" stroke-width="0.5"/>
<rect x="485.07" y="157.19" width="6.97" height="2.990" fill="#f7d989" stroke="#8c8c8c" stroke-width="0.5"/>
<rect x="492.03" y="157.19" width="6.97" height="2.990" fill="#f6cc82" stroke="#8c8c8c" stroke-width="0.5"/>
<rect x="457.20" y="160.18" width="6.97" height="2.990" fill="#d6e2e8" stroke="#8c8c8c" stroke-width="0.5"/>
<rect x="464.17" y="160.18" width="6.97" height="2.990" fill="#eff0eb" stroke="#8c8c8c" stroke-width="0.5"/>
<rect x="471.13" y="160.18" width="6.97" height="2.990" fill="#9ebedc" stroke="#8c8c8c" stroke-width="0.5"/>
<rect x="478.10" y="160.18" width="6.97" height="2.990" fill="#f5ebc6" stroke="#8c8c8c" stroke-width="0.5"/>
<rect x="485.07" y="160.18" width="6.97" height="2.990" fill="#f5c67f" stroke="#8c8c8c" stroke-width="0.5"/>
<rect x="492.03" y="160.18" width="6.97" height="2.990" fill="#f6e5ad" stroke="#8c8c8c" stroke-width="0.5"/>
<rect x="457.20" y="163.16" width="6.97" height="2.990" fill="#b0cbe2" stroke="#8c8c8c" stroke-width="0.5"/>
<rect x="464.17" y="163.16" width="6.97" height="2.990" fill="#f4f0e0" stroke="#8c8c8c" stroke-width="0.5"/>
<rect x="471.13" y="163.16" width="6.97" height="2.990" fill="#9cbcdb" stroke="#8c8c8c" stroke-width="0.5"/>
<rect x="478.10" y="163.16" width="6.97" height="2.990" fill="#f4bd7a" stroke="#8c8c8c" stroke-width="0.5"/>
<rect x="485.07" y="163.16" width="6.97" height="2.990" fill="#f6e5ac" stroke="#8c8c8c" stroke-width="0.5"/>
<rect x="492.03" y="163.16" width="6.97" height="2.990" fill="#f8df91" stroke="#8c8c8c" stroke-width="0.5"/>
<rect x="457.20" y="166.15" width="6.97" height="2.990" fill="#e2e9ea" stroke="#8c8c8c" stroke-width="0.5"/>
<rect x="464.17" y="166.15" width="6.97" height="2.990" fill="#f4eed6" stroke="#8c8c8c" stroke-width="0.5"/>
<rect x="471.13" y="166.15" width="6.97" height="2.990" fill="#8cb0d3" stroke="#8c8c8c" stroke-width="0.5"/>
<rect x="478.10" y="166.15" width="6.97" height="2.990" fill="#f4ba78" stroke="#8c8c8c" stroke-width="0.5"/>
<rect x="485.07" y="166.15" width="6.97" height="2.990" fill="#f3b777" stroke="#8c8c8c" stroke-width="0.5"/>
<rect x="492.03" y="166.15" width="6.97" height="2.990" fill="#f7e096" stroke="#8c8c8c" stroke-width="0.5"/>
<rect x="457.20" y="169.14" width="6.97" height="2.990" fill="#f1f2ec" stroke="#8c8c8c" stroke-width="0.5"/>
<rect x="464.17" y="169.14" width="6.97" height="2.990" fill="#dee6e9" stroke="#8c8c8c" stroke-width="0.5"/>
<rect x="471.13" y="169.14" width="6.97" height="2.990" fill="#e0e8e9" stroke="#8c8c8c" stroke-width="0.5"/>
<rect x="478.10" y="169.14" width="6.97" height="2.990" fill="#f8df8f" stroke="#8c8c8c" stroke-width="0.5"/>
<rect x="485.07" y="169.14" width="6.97" height="2.990" fill="#f6ce83" stroke="#8c8c8c" stroke-width="0.5"/>
<rect x="492.03" y="169.14" width="6.97" height="2.990" fill="#f2b173" stroke="#8c8c8c" stroke-width="0.5"/>
<rect x="457.20" y="172.13" width="6.97" height="2.990" fill="#86abd0" stroke="#8c8c8c" stroke-width="0.5"/>
<rect x="464.17" y="172.13" width="6.97" height="2.990" fill="#b7cfe3" stroke="#8c8c8c" stroke-width="0.5"/>
<rect x="471.13" y="172.13" width="6.97" height="2.990" fill="#f5eccb" stroke="#8c8c8c" stroke-width="0.5"/>
<rect x="478.10" y="172.13" width="6.97" height="2.990" fill="#e26149" stroke="#8c8c8c" stroke-width="0.5"/>
<rect x="485.07" y="172.13" width="6.97" height="2.990" fill="#e96c4d" stroke="#8c8c8c" stroke-width="0.5"/>
<rect x="492.03" y="172.13" width="6.97" height="2.990" fill="#f4bf7b" stroke="#8c8c8c" stroke-width="0.5"/>
<rect x="457.20" y="175.12" width="6.97" height="2.990" fill="#c3d6e5" stroke="#8c8c8c" stroke-width="0.5"/>
<rect x="464.17" y="175.12" width="6.97" height="2.990" fill="#99bad9" stroke="#8c8c8c" stroke-width="0.5"/>
<rect x="471.13" y="175.12" width="6.97" height="2.990" fill="#f3f1e5" stroke="#8c8c8c" stroke-width="0.5"/>
<rect x="478.10" y="175.12" width="6.97" height="2.990" fill="#e3624a" stroke="#8c8c8c" stroke-width="0.5"/>
<rect x="485.07" y="175.12" width="6.97" height="2.990" fill="#ea6f4e" stroke="#8c8c8c" stroke-width="0.5"/>
<rect x="492.03" y="175.12" width="6.97" height="2.990" fill="#f7e29e" stroke="#8c8c8c" stroke-width="0.5"/>
<rect x="457.20" y="178.11" width="6.97" height="2.990" fill="#9bbcda" stroke="#8c8c8c" stroke-width="0.5"/>
<rect x="464.17" y="178.11" width="6.97" height="2.990" fill="#5885b7" stroke="#8c8c8c" stroke-width="0.5"/>
<rect x="471.13" y="178.11" width="6.97" height="2.990" fill="#f4efd7" stroke="#8c8c8c" stroke-width="0.5"/>
<rect x="478.10" y="178.11" width="6.97" height="2.990" fill="#ef9463" stroke="#8c8c8c" stroke-width="0.5"/>
<rect x="485.07" y="178.11" width="6.97" height="2.990" fill="#ec7e57" stroke="#8c8c8c" stroke-width="0.5"/>
<rect x="492.03" y="178.11" width="6.97" height="2.990" fill="#f1a66d" stroke="#8c8c8c" stroke-width="0.5"/>
<rect x="457.20" y="181.10" width="6.97" height="2.990" fill="#bed3e4" stroke="#8c8c8c" stroke-width="0.5"/>
<rect x="464.17" y="181.10" width="6.97" height="2.990" fill="#98b9d9" stroke="#8c8c8c" stroke-width="0.5"/>
<rect x="471.13" y="181.10" width="6.97" height="2.990" fill="#f5ecce" stroke="#8c8c8c" stroke-width="0.5"/>
<rect x="478.10" y="181.10" width="6.97" height="2.990" fill="#f1a96f" stroke="#8c8c8c" stroke-width="0.5"/>
<rect x="485.07" y="181.10" width="6.97" height="2.990" fill="#d85044" stroke="#8c8c8c" stroke-width="0.5"/>
<rect x="492.03" y="181.10" width="6.97" height="2.990" fill="#eb7451" stroke="#8c8c8c" stroke-width="0.5"/>
<rect x="457.20" y="184.09" width="6.97" height="2.990" fill="#d2dfe7" stroke="#8c8c8c" stroke-width="0.5"/>
<rect x="464.17" y="184.09" width="6.97" height="2.990" fill="#7fa5cc" stroke="#8c8c8c" stroke-width="0.5"/>
<rect x="471.13" y="184.09" width="6.97" height="2.990" fill="#f4eed6" stroke="#8c8c8c" stroke-width="0.5"/>
<rect x="478.10" y="184.09" width="6.97" height="2.990" fill="#f6e7b6" stroke="#8c8c8c" stroke-width="0.5"/>
<rect x="485.07" y="184.09" width="6.97" height="2.990" fill="#ef9363" stroke="#8c8c8c" stroke-width="0.5"/>
<rect x="492.03" y="184.09" width="6.97" height="2.990" fill="#f8e095" stroke="#8c8c8c" stroke-width="0.5"/>
<rect x="457.20" y="187.08" width="6.97" height="2.990" fill="#c4d7e5" stroke="#8c8c8c" stroke-width="0.5"/>
<rect x="464.17" y="187.08" width="6.97" height="2.990" fill="#6d96c2" stroke="#8c8c8c" stroke-width="0.5"/>
<rect x="471.13" y="187.08" width="6.97" height="2.990" fill="#f3f2e7" stroke="#8c8c8c" stroke-width="0.5"/>
<rect x="478.10" y="187.08" width="6.97" height="2.990" fill="#f2b173" stroke="#8c8c8c" stroke-width="0.5"/>
<rect x="485.07" y="187.08" width="6.97" height="2.990" fill="#e7694c" stroke="#8c8c8c" stroke-width="0.5"/>
<rect x="492.03" y="187.08" width="6.97" height="2.990" fill="#f3ba78" stroke="#8c8c8c" stroke-width="0.5"/>
<rect x="457.20" y="190.07" width="6.97" height="2.990" fill="#aecae2" stroke="#8c8c8c" stroke-width="0.5"/>
<rect x="464.17" y="190.07" width="6.97" height="2.990" fill="#c8d9e6" stroke="#8c8c8c" stroke-width="0.5"/>
<rect x="471.13" y="190.07" width="6.97" height="2.990" fill="#f3f2e6" stroke="#8c8c8c" stroke-width="0.5"/>
<rect x="478.10" y="190.07" width="6.97" height="2.990" fill="#ed885d" stroke="#8c8c8c" stroke-width="0.5"/>
<rect x="485.07" y="190.07" width="6.97" height="2.990" fill="#d95144" stroke="#8c8c8c" stroke-width="0.5"/>
<rect x="492.03" y="190.07" width="6.97" height="2.990" fill="#f2ad71" stroke="#8c8c8c" stroke-width="0.5"/>
<rect x="457.20" y="193.06" width="6.97" height="2.990" fill="#7fa4cb" stroke="#8c8c8c" stroke-width="0.5"/>
<rect x="464.17" y="193.06" width="6.97" height="2.990" fill="#83a8ce" stroke="#8c8c8c" stroke-width="0.5"/>
<rect x="471.13" y="193.06" width="6.97" height="2.990" fill="#f4edd3" stroke="#8c8c8c" stroke-width="0.5"/>
<rect x="478.10" y="193.06" width="6.97" height="2.990" fill="#f6e5ab" stroke="#8c8c8c" stroke-width="0.5"/>
<rect x="485.07" y="193.06" width="6.97" height="2.990" fill="#ec7e57" stroke="#8c8c8c" stroke-width="0.5"/>
<rect x="492.03" y="193.06" width="6.97" height="2.990" fill="#ed845a" stroke="#8c8c8c" stroke-width="0.5"/>
<rect x="457.20" y="196.05" width="6.97" height="2.990" fill="#bdd2e4" stroke="#8c8c8c" stroke-width="0.5"/>
<rect x="464.17" y="196.05" width="6.97" height="2.990" fill="#95b7d7" stroke="#8c8c8c" stroke-width="0.5"/>
<rect x="471.13" y="196.05" width="6.97" height="2.990" fill="#f4efd8" stroke="#8c8c8c" stroke-width="0.5"/>
<rect x="478.10" y="196.05" width="6.97" height="2.990" fill="#f09d68" stroke="#8c8c8c" stroke-width="0.5"/>
<rect x="485.07" y="196.05" width="6.97" height="2.990" fill="#ef9865" stroke="#8c8c8c" stroke-width="0.5"/>
<rect x="492.03" y="196.05" width="6.97" height="2.990" fill="#f8db8a" stroke="#8c8c8c" stroke-width="0.5"/>
<rect x="457.20" y="199.04" width="6.97" height="2.990" fill="#93b5d6" stroke="#8c8c8c" stroke-width="0.5"/>
<rect x="464.17" y="199.04" width="6.97" height="2.990" fill="#b1cce2" stroke="#8c8c8c" stroke-width="0.5"/>
<rect x="471.13" y="199.04" width="6.97" height="2.990" fill="#eef0eb" stroke="#8c8c8c" stroke-width="0.5"/>
<rect x="478.10" y="199.04" width="6.97" height="2.990" fill="#f7d989" stroke="#8c8c8c" stroke-width="0.5"/>
<rect x="485.07" y="199.04" width="6.97" height="2.990" fill="#ed855b" stroke="#8c8c8c" stroke-width="0.5"/>
<rect x="492.03" y="199.04" width="6.97" height="2.990" fill="#f7d989" stroke="#8c8c8c" stroke-width="0.5"/>
<rect x="457.20" y="202.03" width="6.97" height="2.990" fill="#a4c3df" stroke="#8c8c8c" stroke-width="0.5"/>
<rect x="464.17" y="202.03" width="6.97" height="2.990" fill="#6e97c3" stroke="#8c8c8c" stroke-width="0.5"/>
<rect x="471.13" y="202.03" width="6.97" height="2.990" fill="#f4f0e0" stroke="#8c8c8c" stroke-width="0.5"/>
<rect x="478.10" y="202.03" width="6.97" height="2.990" fill="#f5eccd" stroke="#8c8c8c" stroke-width="0.5"/>
<rect x="485.07" y="202.03" width="6.97" height="2.990" fill="#e26149" stroke="#8c8c8c" stroke-width="0.5"/>
<rect x="492.03" y="202.03" width="6.97" height="2.990" fill="#f4bc79" stroke="#8c8c8c" stroke-width="0.5"/>
<rect x="457.20" y="205.02" width="6.97" height="2.990" fill="#6892c0" stroke="#8c8c8c" stroke-width="0.5"/>
<rect x="464.17" y="205.02" width="6.97" height="2.990" fill="#acc8e2" stroke="#8c8c8c" stroke-width="0.5"/>
<rect x="471.13" y="205.02" width="6.97" height="2.990" fill="#f3f3ec" stroke="#8c8c8c" stroke-width="0.5"/>
<rect x="478.10" y="205.02" width="6.97" height="2.990" fill="#f5ebc7" stroke="#8c8c8c" stroke-width="0.5"/>
<rect x="485.07" y="205.02" width="6.97" height="2.990" fill="#ee8a5e" stroke="#8c8c8c" stroke-width="0.5"/>
<rect x="492.03" y="205.02" width="6.97" height="2.990" fill="#f09c68" stroke="#8c8c8c" stroke-width="0.5"/>
<rect x="457.20" y="208.01" width="6.97" height="2.990" fill="#99bad9" stroke="#8c8c8c" stroke-width="0.5"/>
<rect x="464.17" y="208.01" width="6.97" height="2.990" fill="#adc9e2" stroke="#8c8c8c" stroke-width="0.5"/>
<rect x="471.13" y="208.01" width="6.97" height="2.990" fill="#f4efd9" stroke="#8c8c8c" stroke-width="0.5"/>
<rect x="478.10" y="208.01" width="6.97" height="2.990" fill="#ec8158" stroke="#8c8c8c" stroke-width="0.5"/>
<rect x="485.07" y="208.01" width="6.97" height="2.990" fill="#e26149" stroke="#8c8c8c" stroke-width="0.5"/>
<rect x="492.03" y="208.01" width="6.97" height="2.990" fill="#eb7954" stroke="#8c8c8c" stroke-width="0.5"/>
<rect x="457.20" y="211.00" width="6.97" height="2.990" fill="#b9d0e4" stroke="#8c8c8c" stroke-width="0.5"/>
<rect x="464.17" y="211.00" width="6.97" height="2.990" fill="#a4c3df" stroke="#8c8c8c" stroke-width="0.5"/>
<rect x="471.13" y="211.00" width="6.97" height="2.990" fill="#d7e2e8" stroke="#8c8c8c" stroke-width="0.5"/>
<rect x="478.10" y="211.00" width="6.97" height="2.990" fill="#eb7451" stroke="#8c8c8c" stroke-width="0.5"/>
<rect x="485.07" y="211.00" width="6.97" height="2.990" fill="#d54a42" stroke="#8c8c8c" stroke-width="0.5"/>
<rect x="492.03" y="211.00" width="6.97" height="2.990" fill="#f2b073" stroke="#8c8c8c" stroke-width="0.5"/>
<rect x="457.20" y="213.99" width="6.97" height="2.990" fill="#99bad9" stroke="#8c8c8c" stroke-width="0.5"/>
<rect x="464.17" y="213.99" width="6.97" height="2.990" fill="#ccdce6" stroke="#8c8c8c" stroke-width="0.5"/>
<rect x="471.13" y="213.99" width="6.97" height="2.990" fill="#dce5e9" stroke="#8c8c8c" stroke-width="0.5"/>
<rect x="478.10" y="213.99" width="6.97" height="2.990" fill="#ee8c5e" stroke="#8c8c8c" stroke-width="0.5"/>
<rect x="485.07" y="213.99" width="6.97" height="2.990" fill="#c8343a" stroke="#8c8c8c" stroke-width="0.5"/>
<rect x="492.03" y="213.99" width="6.97" height="2.990" fill="#f5c57e" stroke="#8c8c8c" stroke-width="0.5"/>
<rect x="457.20" y="216.98" width="6.97" height="2.990" fill="#bad1e4" stroke="#8c8c8c" stroke-width="0.5"/>
<rect x="464.17" y="216.98" width="6.97" height="2.990" fill="#cbdbe6" stroke="#8c8c8c" stroke-width="0.5"/>
<rect x="471.13" y="216.98" width="6.97" height="2.990" fill="#f3f2ea" stroke="#8c8c8c" stroke-width="0.5"/>
<rect x="478.10" y="216.98" width="6.97" height="2.990" fill="#ed875c" stroke="#8c8c8c" stroke-width="0.5"/>
<rect x="485.07" y="216.98" width="6.97" height="2.990" fill="#da5345" stroke="#8c8c8c" stroke-width="0.5"/>
<rect x="492.03" y="216.98" width="6.97" height="2.990" fill="#f5c47e" stroke="#8c8c8c" stroke-width="0.5"/>
<rect x="457.20" y="219.97" width="6.97" height="2.990" fill="#e2e9ea" stroke="#8c8c8c" stroke-width="0.5"/>
<rect x="464.17" y="219.97" width="6.97" height="2.990" fill="#c1d5e5" stroke="#8c8c8c" stroke-width="0.5"/>
<rect x="471.13" y="219.97" width="6.97" height="2.990" fill="#f3f1e5" stroke="#8c8c8c" stroke-width="0.5"/>
<rect x="478.10" y="219.97" width="6.97" height="2.990" fill="#f7e2a0" stroke="#8c8c8c" stroke-width="0.5"/>
<rect x="485.07" y="219.97" width="6.97" height="2.990" fill="#ee8d5f" stroke="#8c8c8c" stroke-width="0.5"/>
<rect x="492.03" y="219.97" width="6.97" height="2.990" fill="#f7e096" stroke="#8c8c8c" stroke-width="0.5"/>
<rect x="457.20" y="222.96" width="6.97" height="2.990" fill="#dde6e9" stroke="#8c8c8c" stroke-width="0.5"/>
<rect x="464.17" y="222.96" width="6.97" height="2.990" fill="#cfdde7" stroke="#8c8c8c" stroke-width="0.5"/>
<rect x="471.13" y="222.96" width="6.97" height="2.990" fill="#f0f1ec" stroke="#8c8c8c" stroke-width="0.5"/>
<rect x="478.10" y="222.96" width="6.97" height="2.990" fill="#f6e8b8" stroke="#8c8c8c" stroke-width="0.5"/>
<rect x="485.07" y="222.96" width="6.97" height="2.990" fill="#f2aa6f" stroke="#8c8c8c" stroke-width="0.5"/>
<rect x="492.03" y="222.96" width="6.97" height="2.990" fill="#ea6e4e" stroke="#8c8c8c" stroke-width="0.5"/>
<rect x="457.20" y="225.95" width="6.97" height="2.990" fill="#f3f1e4" stroke="#8c8c8c" stroke-width="0.5"/>
<rect x="464.17" y="225.95" width="6.97" height="2.990" fill="#c9dae6" stroke="#8c8c8c" stroke-width="0.5"/>
<rect x="471.13" y="225.95" width="6.97" height="2.990" fill="#d2dfe7" stroke="#8c8c8c" stroke-width="0.5"/>
<rect x="478.10" y="225.95" width="6.97" height="2.990" fill="#f8de8d" stroke="#8c8c8c" stroke-width="0.5"/>
<rect x="485.07" y="225.95" width="6.97" height="2.990" fill="#ea6f4e" stroke="#8c8c8c" stroke-width="0.5"/>
<rect x="492.03" y="225.95" width="6.97" height="2.990" fill="#ee8f60" stroke="#8c8c8c" stroke-width="0.5"/>
<rect x="457.20" y="228.94" width="6.97" height="2.990" fill="#ecefeb" stroke="#8c8c8c" stroke-width="0.5"/>
<rect x="464.17" y="228.94" width="6.97" height="2.990" fill="#b9d0e4" stroke="#8c8c8c" stroke-width="0.5"/>
<rect x="471.13" y="228.94" width="6.97" height="2.990" fill="#f3f2e9" stroke="#8c8c8c" stroke-width="0.5"/>
<rect x="478.10" y="228.94" width="6.97" height="2.990" fill="#f4eed7" stroke="#8c8c8c" stroke-width="0.5"/>
<rect x="485.07" y="228.94" width="6.97" height="2.990" fill="#e3624a" stroke="#8c8c8c" stroke-width="0.5"/>
<rect x="492.03" y="228.94" width="6.97" height="2.990" fill="#f4bd7a" stroke="#8c8c8c" stroke-width="0.5"/>
<rect x="457.20" y="231.93" width="6.97" height="2.990" fill="#d7e2e8" stroke="#8c8c8c" stroke-width="0.5"/>
<rect x="464.17" y="231.93" width="6.97" height="2.990" fill="#d9e3e8" stroke="#8c8c8c" stroke-width="0.5"/>
<rect x="471.13" y="231.93" width="6.97" height="2.990" fill="#f4eed7" stroke="#8c8c8c" stroke-width="0.5"/>
<rect x="478.10" y="231.93" width="6.97" height="2.990" fill="#f5ebc8" stroke="#8c8c8c" stroke-width="0.5"/>
<rect x="485.07" y="231.93" width="6.97" height="2.990" fill="#f1a26b" stroke="#8c8c8c" stroke-width="0.5"/>
<rect x="492.03" y="231.93" width="6.97" height="2.990" fill="#f4be7a" stroke="#8c8c8c" stroke-width="0.5"/>
<rect x="457.20" y="234.92" width="6.97" height="2.990" fill="#e7ecea" stroke="#8c8c8c" stroke-width="0.5"/>
<rect x="464.17" y="234.92" width="6.97" height="2.990" fill="#b2cce2" stroke="#8c8c8c" stroke-width="0.5"/>
<rect x="471.13" y="234.92" width="6.97" height="2.990" fill="#e4eaea" stroke="#8c8c8c" stroke-width="0.5"/>
<rect x="478.10" y="234.92" width="6.97" height="2.990" fill="#f2ad71" stroke="#8c8c8c" stroke-width="0.5"/>
<rect x="485.07" y="234.92" width="6.97" height="2.990" fill="#e3624a" stroke="#8c8c8c" stroke-width="0.5"/>
<rect x="492.03" y="234.92" width="6.97" height="2.990" fill="#f7e19b" stroke="#8c8c8c" stroke-width="0.5"/>
<rect x="457.20" y="237.91" width="6.97" height="2.990" fill="#cbdbe6" stroke="#8c8c8c" stroke-width="0.5"/>
<rect x="464.17" y="237.91" width="6.97" height="2.990" fill="#e1e8e9" stroke="#8c8c8c" stroke-width="0.5"/>
<rect x="471.13" y="237.91" width="6.97" height="2.990" fill="#f3f1e3" stroke="#8c8c8c" stroke-width="0.5"/>
<rect x="478.10" y="237.91" width="6.97" height="2.990" fill="#f3b777" stroke="#8c8c8c" stroke-width="0.5"/>
<rect x="485.07" y="237.91" width="6.97" height="2.990" fill="#e6674c" stroke="#8c8c8c" stroke-width="0.5"/>
<rect x="492.03" y="237.91" width="6.97" height="2.990" fill="#f8df92" stroke="#8c8c8c" stroke-width="0.5"/>
<rect x="457.20" y="240.90" width="6.97" height="2.990" fill="#e9edeb" stroke="#8c8c8c" stroke-width="0.5"/>
<rect x="464.17" y="240.90" width="6.97" height="2.990" fill="#83a8cd" stroke="#8c8c8c" stroke-width="0.5"/>
<rect x="471.13" y="240.90" width="6.97" height="2.990" fill="#e7ecea" stroke="#8c8c8c" stroke-width="0.5"/>
<rect x="478.10" y="240.90" width="6.97" height="2.990" fill="#f7e3a1" stroke="#8c8c8c" stroke-width="0.5"/>
<rect x="485.07" y="240.90" width="6.97" height="2.990" fill="#ea6d4e" stroke="#8c8c8c" stroke-width="0.5"/>
<rect x="492.03" y="240.90" width="6.97" height="2.990" fill="#f8de8e" stroke="#8c8c8c" stroke-width="0.5"/>
<rect x="457.20" y="243.89" width="6.97" height="2.990" fill="#e2e9e9" stroke="#8c8c8c" stroke-width="0.5"/>
<rect x="464.17" y="243.89" width="6.97" height="2.990" fill="#c5d7e5" stroke="#8c8c8c" stroke-width="0.5"/>
<rect x="471.13" y="243.89" width="6.97" height="2.990" fill="#f3f3eb" stroke="#8c8c8c" stroke-width="0.5"/>
<rect x="478.10" y="243.89" width="6.97" height="2.990" fill="#f8de8d" stroke="#8c8c8c" stroke-width="0.5"/>
<rect x="485.07" y="243.89" width="6.97" height="2.990" fill="#ec7b55" stroke="#8c8c8c" stroke-width="0.5"/>
<rect x="492.03" y="243.89" width="6.97" height="2.990" fill="#f7d286" stroke="#8c8c8c" stroke-width="0.5"/>
<rect x="457.20" y="246.88" width="6.97" height="2.990" fill="#f3f3ec" stroke="#8c8c8c" stroke-width="0.5"/>
<rect x="464.17" y="246.88" width="6.97" height="2.990" fill="#bcd2e4" stroke="#8c8c8c" stroke-width="0.5"/>
<rect x="471.13" y="246.88" width="6.97" height="2.990" fill="#e6ebea" stroke="#8c8c8c" stroke-width="0.5"/>
<rect x="478.10" y="246.88" width="6.97" height="2.990" fill="#f6e6b1" stroke="#8c8c8c" stroke-width="0.5"/>
<rect x="485.07" y="246.88" width="6.97" height="2.990" fill="#ed845a" stroke="#8c8c8c" stroke-width="0.5"/>
<rect x="492.03" y="246.88" width="6.97" height="2.990" fill="#f6cb82" stroke="#8c8c8c" stroke-width="0.5"/>
<rect x="457.20" y="249.87" width="6.97" height="2.990" fill="#e7ecea" stroke="#8c8c8c" stroke-width="0.5"/>
<rect x="464.17" y="249.87" width="6.97" height="2.990" fill="#bbd1e4" stroke="#8c8c8c" stroke-width="0.5"/>
<rect x="471.13" y="249.87" width="6.97" height="2.990" fill="#f1f2ec" stroke="#8c8c8c" stroke-width="0.5"/>
<rect x="478.10" y="249.87" width="6.97" height="2.990" fill="#f7e3a3" stroke="#8c8c8c" stroke-width="0.5"/>
<rect x="485.07" y="249.87" width="6.97" height="2.990" fill="#f4bd7a" stroke="#8c8c8c" stroke-width="0.5"/>
<rect x="492.03" y="249.87" width="6.97" height="2.990" fill="#f3b978" stroke="#8c8c8c" stroke-width="0.5"/>
<rect x="457.20" y="252.86" width="6.97" height="2.990" fill="#f3f2e6" stroke="#8c8c8c" stroke-width="0.5"/>
<rect x="464.17" y="252.86" width="6.97" height="2.990" fill="#c5d7e5" stroke="#8c8c8c" stroke-width="0.5"/>
<rect x="471.13" y="252.86" width="6.97" height="2.990" fill="#edefeb" stroke="#8c8c8c" stroke-width="0.5"/>
<rect x="478.10" y="252.86" width="6.97" height="2.990" fill="#f8df92" stroke="#8c8c8c" stroke-width="0.5"/>
<rect x="485.07" y="252.86" width="6.97" height="2.990" fill="#f2b072" stroke="#8c8c8c" stroke-width="0.5"/>
<rect x="492.03" y="252.86" width="6.97" height="2.990" fill="#f6e6af" stroke="#8c8c8c" stroke-width="0.5"/>
<rect x="457.20" y="255.85" width="6.97" height="2.990" fill="#e5ebea" stroke="#8c8c8c" stroke-width="0.5"/>
<rect x="464.17" y="255.85" width="6.97" height="2.990" fill="#a5c4e0" stroke="#8c8c8c" stroke-width="0.5"/>
<rect x="471.13" y="255.85" width="6.97" height="2.990" fill="#f3f2e6" stroke="#8c8c8c" stroke-width="0.5"/>
<rect x="478.10" y="255.85" width="6.97" height="2.990" fill="#f5e9be" stroke="#8c8c8c" stroke-width="0.5"/>
<rect x="485.07" y="255.85" width="6.97" height="2.990" fill="#f7e3a4" stroke="#8c8c8c" stroke-width="0.5"/>
<rect x="492.03" y="255.85" width="6.97" height="2.990" fill="#f7e097" stroke="#8c8c8c" stroke-width="0.5"/>
<rect x="457.20" y="258.84" width="6.97" height="2.990" fill="#f4efd9" stroke="#8c8c8c" stroke-width="0.5"/>
<rect x="464.17" y="258.84" width="6.97" height="2.990" fill="#b2cce2" stroke="#8c8c8c" stroke-width="0.5"/>
<rect x="471.13" y="258.84" width="6.97" height="2.990" fill="#e0e8e9" stroke="#8c8c8c" stroke-width="0.5"/>
<rect x="478.10" y="258.84" width="6.97" height="2.990" fill="#f6e7b5" stroke="#8c8c8c" stroke-width="0.5"/>
<rect x="485.07" y="258.84" width="6.97" height="2.990" fill="#ea6e4e" stroke="#8c8c8c" stroke-width="0.5"/>
<rect x="492.03" y="258.84" width="6.97" height="2.990" fill="#f3b776" stroke="#8c8c8c" stroke-width="0.5"/>
<rect x="457.20" y="261.83" width="6.97" height="2.990" fill="#e7ecea" stroke="#8c8c8c" stroke-width="0.5"/>
<rect x="464.17" y="261.83" width="6.97" height="2.990" fill="#dce5e9" stroke="#8c8c8c" stroke-width="0.5"/>
<rect x="471.13" y="261.83" width="6.97" height="2.990" fill="#f3f2e7" stroke="#8c8c8c" stroke-width="0.5"/>
<rect x="478.10" y="261.83" width="6.97" height="2.990" fill="#f7e2a0" stroke="#8c8c8c" stroke-width="0.5"/>
<rect x="485.07" y="261.83" width="6.97" height="2.990" fill="#e96c4d" stroke="#8c8c8c" stroke-width="0.5"/>
<rect x="492.03" y="261.83" width="6.97" height="2.990" fill="#ee9061" stroke="#8c8c8c" stroke-width="0.5"/>
<rect x="457.20" y="264.82" width="6.97" height="2.990" fill="#f3f2e8" stroke="#8c8c8c" stroke-width="0.5"/>
<rect x="464.17" y="264.82" width="6.97" height="2.990" fill="#d2dfe7" stroke="#8c8c8c" stroke-width="0.5"/>
<rect x="471.13" y="264.82" width="6.97" height="2.990" fill="#e3e9ea" stroke="#8c8c8c" stroke-width="0.5"/>
<rect x="478.10" y="264.82" width="6.97" height="2.990" fill="#f7e3a3" stroke="#8c8c8c" stroke-width="0.5"/>
<rect x="485.07" y="264.82" width="6.97" height="2.990" fill="#e7694c" stroke="#8c8c8c" stroke-width="0.5"/>
<rect x="492.03" y="264.82" width="6.97" height="2.990" fill="#f6d285" stroke="#8c8c8c" stroke-width="0.5"/>
<rect x="457.20" y="267.81" width="6.97" height="2.990" fill="#f3f2e6" stroke="#8c8c8c" stroke-width="0.5"/>
<rect x="464.17" y="267.81" width="6.97" height="2.990" fill="#c8d9e6" stroke="#8c8c8c" stroke-width="0.5"/>
<rect x="471.13" y="267.81" width="6.97" height="2.990" fill="#f3f1e4" stroke="#8c8c8c" stroke-width="0.5"/>
<rect x="478.10" y="267.81" width="6.97" height="2.990" fill="#f7e4a5" stroke="#8c8c8c" stroke-width="0.5"/>
<rect x="485.07" y="267.81" width="6.97" height="2.990" fill="#ce3f3e" stroke="#8c8c8c" stroke-width="0.5"/>
<rect x="492.03" y="267.81" width="6.97" height="2.990" fill="#f09e69" stroke="#8c8c8c" stroke-width="0.5"/>
<rect x="457.20" y="270.80" width="6.97" height="2.990" fill="#e0e8e9" stroke="#8c8c8c" stroke-width="0.5"/>
<rect x="464.17" y="270.80" width="6.97" height="2.990" fill="#bdd2e4" stroke="#8c8c8c" stroke-width="0.5"/>
<rect x="471.13" y="270.80" width="6.97" height="2.990" fill="#f5eccb" stroke="#8c8c8c" stroke-width="0.5"/>
<rect x="478.10" y="270.80" width="6.97" height="2.990" fill="#f6e4a9" stroke="#8c8c8c" stroke-width="0.5"/>
<rect x="485.07" y="270.80" width="6.97" height="2.990" fill="#e5654b" stroke="#8c8c8c" stroke-width="0.5"/>
<rect x="492.03" y="270.80" width="6.97" height="2.990" fill="#f1a76d" stroke="#8c8c8c" stroke-width="0.5"/>
<rect x="457.20" y="273.79" width="6.97" height="2.990" fill="#e4eaea" stroke="#8c8c8c" stroke-width="0.5"/>
<rect x="464.17" y="273.79" width="6.97" height="2.990" fill="#9fbedc" stroke="#8c8c8c" stroke-width="0.5"/>
<rect x="471.13" y="273.79" width="6.97" height="2.990" fill="#f1f2ec" stroke="#8c8c8c" stroke-width="0.5"/>
<rect x="478.10" y="273.79" width="6.97" height="2.990" fill="#f8e095" stroke="#8c8c8c" stroke-width="0.5"/>
<rect x="485.07" y="273.79" width="6.97" height="2.990" fill="#e15f49" stroke="#8c8c8c" stroke-width="0.5"/>
<rect x="492.03" y="273.79" width="6.97" height="2.990" fill="#f2ad71" stroke="#8c8c8c" stroke-width="0.5"/>
<rect x="457.20" y="276.78" width="6.97" height="2.990" fill="#e4eaea" stroke="#8c8c8c" stroke-width="0.5"/>
<rect x="464.17" y="276.78" width="6.97" height="2.990" fill="#cedde7" stroke="#8c8c8c" stroke-width="0.5"/>
<rect x="471.13" y="276.78" width="6.97" height="2.990" fill="#f3f2e9" stroke="#8c8c8c" stroke-width="0.5"/>
<rect x="478.10" y="276.78" width="6.97" height="2.990" fill="#f7e199" stroke="#8c8c8c" stroke-width="0.5"/>
<rect x="485.07" y="276.78" width="6.97" height="2.990" fill="#ec8259" stroke="#8c8c8c" stroke-width="0.5"/>
<rect x="492.03" y="276.78" width="6.97" height="2.990" fill="#f6d084" stroke="#8c8c8c" stroke-width="0.5"/>
<rect x="457.20" y="279.77" width="6.97" height="2.990" fill="#f1f2ec" stroke="#8c8c8c" stroke-width="0.5"/>
<rect x="464.17" y="279.77" width="6.97" height="2.990" fill="#a2c1de" stroke="#8c8c8c" stroke-width="0.5"/>
<rect x="471.13" y="279.77" width="6.97" height="2.990" fill="#e8edea" stroke="#8c8c8c" stroke-width="0.5"/>
<rect x="478.10" y="279.77" width="6.97" height="2.990" fill="#f7e29f" stroke="#8c8c8c" stroke-width="0.5"/>
<rect x="485.07" y="279.77" width="6.97" height="2.990" fill="#f5c67f" stroke="#8c8c8c" stroke-width="0.5"/>
<rect x="492.03" y="279.77" width="6.97" height="2.990" fill="#f7d688" stroke="#8c8c8c" stroke-width="0.5"/>
<rect x="457.20" y="282.76" width="6.97" height="2.990" fill="#bed3e4" stroke="#8c8c8c" stroke-width="0.5"/>
<rect x="464.17" y="282.76" width="6.97" height="2.990" fill="#abc8e1" stroke="#8c8c8c" stroke-width="0.5"/>
<rect x="471.13" y="282.76" width="6.97" height="2.990" fill="#f3f2e9" stroke="#8c8c8c" stroke-width="0.5"/>
<rect x="478.10" y="282.76" width="6.97" height="2.990" fill="#f8df8f" stroke="#8c8c8c" stroke-width="0.5"/>
<rect x="485.07" y="282.76" width="6.97" height="2.990" fill="#ed875c" stroke="#8c8c8c" stroke-width="0.5"/>
<rect x="492.03" y="282.76" width="6.97" height="2.990" fill="#f6cf84" stroke="#8c8c8c" stroke-width="0.5"/>
<rect x="457.20" y="285.75" width="6.97" height="2.990" fill="#c9dae6" stroke="#8c8c8c" stroke-width="0.5"/>
<rect x="464.17" y="285.75" width="6.97" height="2.990" fill="#e4eaea" stroke="#8c8c8c" stroke-width="0.5"/>
<rect x="471.13" y="285.75" width="6.97" height="2.990" fill="#f3f2e9" stroke="#8c8c8c" stroke-width="0.5"/>
<rect x="478.10" y="285.75" width="6.97" height="2.990" fill="#f6d084" stroke="#8c8c8c" stroke-width="0.5"/>
<rect x="485.07" y="285.75" width="6.97" height="2.990" fill="#f2ac70" stroke="#8c8c8c" stroke-width="0.5"/>
<rect x="492.03" y="285.75" width="6.97" height="2.990" fill="#f6ce83" stroke="#8c8c8c" stroke-width="0.5"/>
<rect x="457.20" y="288.74" width="6.97" height="2.990" fill="#c2d6e5" stroke="#8c8c8c" stroke-width="0.5"/>
<rect x="464.17" y="288.74" width="6.97" height="2.990" fill="#ccdce6" stroke="#8c8c8c" stroke-width="0.5"/>
<rect x="471.13" y="288.74" width="6.97" height="2.990" fill="#f3f1e3" stroke="#8c8c8c" stroke-width="0.5"/>
<rect x="478.10" y="288.74" width="6.97" height="2.990" fill="#f4eed6" stroke="#8c8c8c" stroke-width="0.5"/>
<rect x="485.07" y="288.74" width="6.97" height="2.990" fill="#ed875c" stroke="#8c8c8c" stroke-width="0.5"/>
<rect x="492.03" y="288.74" width="6.97" height="2.990" fill="#f3b274" stroke="#8c8c8c" stroke-width="0.5"/>
<rect x="457.20" y="291.73" width="6.97" height="2.990" fill="#c3d6e5" stroke="#8c8c8c" stroke-width="0.5"/>
<rect x="464.17" y="291.73" width="6.97" height="2.990" fill="#8cafd2" stroke="#8c8c8c" stroke-width="0.5"/>
<rect x="471.13" y="291.73" width="6.97" height="2.990" fill="#e3eaea" stroke="#8c8c8c" stroke-width="0.5"/>
<rect x="478.10" y="291.73" width="6.97" height="2.990" fill="#f6e6b1" stroke="#8c8c8c" stroke-width="0.5"/>
<rect x="485.07" y="291.73" width="6.97" height="2.990" fill="#f5c37d" stroke="#8c8c8c" stroke-width="0.5"/>
<rect x="492.03" y="291.73" width="6.97" height="2.990" fill="#f5c77f" stroke="#8c8c8c" stroke-width="0.5"/>
<rect x="457.20" y="294.72" width="6.97" height="2.990" fill="#e9edea" stroke="#8c8c8c" stroke-width="0.5"/>
<rect x="464.17" y="294.72" width="6.97" height="2.990" fill="#c9dae6" stroke="#8c8c8c" stroke-width="0.5"/>
<rect x="471.13" y="294.72" width="6.97" height="2.990" fill="#f3f2e7" stroke="#8c8c8c" stroke-width="0.5"/>
<rect x="478.10" y="294.72" width="6.97" height="2.990" fill="#f4c27c" stroke="#8c8c8c" stroke-width="0.5"/>
<rect x="485.07" y="294.72" width="6.97" height="2.990" fill="#e15f49" stroke="#8c8c8c" stroke-width="0.5"/>
<rect x="492.03" y="294.72" width="6.97" height="2.990" fill="#f7e29f" stroke="#8c8c8c" stroke-width="0.5"/>
<rect x="457.20" y="297.71" width="6.97" height="2.990" fill="#dbe4e8" stroke="#8c8c8c" stroke-width="0.5"/>
<rect x="464.17" y="297.71" width="6.97" height="2.990" fill="#a2c1de" stroke="#8c8c8c" stroke-width="0.5"/>
<rect x="471.13" y="297.71" width="6.97" height="2.990" fill="#e3e9ea" stroke="#8c8c8c" stroke-width="0.5"/>
<rect x="478.10" y="297.71" width="6.97" height="2.990" fill="#f7e3a2" stroke="#8c8c8c" stroke-width="0.5"/>
<rect x="485.07" y="297.71" width="6.97" height="2.990" fill="#ed845a" stroke="#8c8c8c" stroke-width="0.5"/>
<rect x="492.03" y="297.71" width="6.97" height="2.990" fill="#f3b776" stroke="#8c8c8c" stroke-width="0.5"/>
<rect x="457.20" y="300.70" width="6.97" height="2.990" fill="#c6d8e5" stroke="#8c8c8c" stroke-width="0.5"/>
<rect x="464.17" y="300.70" width="6.97" height="2.990" fill="#9dbddb" stroke="#8c8c8c" stroke-width="0.5"/>
<rect x="471.13" y="300.70" width="6.97" height="2.990" fill="#eff1eb" stroke="#8c8c8c" stroke-width="0.5"/>
<rect x="478.10" y="300.70" width="6.97" height="2.990" fill="#f7e3a5" stroke="#8c8c8c" stroke-width="0.5"/>
<rect x="485.07" y="300.70" width="6.97" height="2.990" fill="#ef9262" stroke="#8c8c8c" stroke-width="0.5"/>
<rect x="492.03" y="300.70" width="6.97" height="2.990" fill="#f5ca81" stroke="#8c8c8c" stroke-width="0.5"/>
<rect x="457.20" y="303.69" width="6.97" height="2.990" fill="#d6e1e8" stroke="#8c8c8c" stroke-width="0.5"/>
<rect x="464.17" y="303.69" width="6.97" height="2.990" fill="#cbdbe6" stroke="#8c8c8c" stroke-width="0.5"/>
<rect x="471.13" y="303.69" width="6.97" height="2.990" fill="#f3f3ec" stroke="#8c8c8c" stroke-width="0.5"/>
<rect x="478.10" y="303.69" width="6.97" height="2.990" fill="#f7e3a2" stroke="#8c8c8c" stroke-width="0.5"/>
<rect x="485.07" y="303.69" width="6.97" height="2.990" fill="#f1a36b" stroke="#8c8c8c" stroke-width="0.5"/>
<rect x="492.03" y="303.69" width="6.97" height="2.990" fill="#f6cd83" stroke="#8c8c8c" stroke-width="0.5"/>
<rect x="457.20" y="306.68" width="6.97" height="2.990" fill="#b1cbe2" stroke="#8c8c8c" stroke-width="0.5"/>
<rect x="464.17" y="306.68" width="6.97" height="2.990" fill="#a4c3df" stroke="#8c8c8c" stroke-width="0.5"/>
<rect x="471.13" y="306.68" width="6.97" height="2.990" fill="#f0f1ec" stroke="#8c8c8c" stroke-width="0.5"/>
<rect x="478.10" y="306.68" width="6.97" height="2.990" fill="#f5eccb" stroke="#8c8c8c" stroke-width="0.5"/>
<rect x="485.07" y="306.68" width="6.97" height="2.990" fill="#ec7b55" stroke="#8c8c8c" stroke-width="0.5"/>
<rect x="492.03" y="306.68" width="6.97" height="2.990" fill="#f5c37d" stroke="#8c8c8c" stroke-width="0.5"/>
<rect x="457.20" y="309.67" width="6.97" height="2.990" fill="#cadbe6" stroke="#8c8c8c" stroke-width="0.5"/>
<rect x="464.17" y="309.67" width="6.97" height="2.990" fill="#b5cee3" stroke="#8c8c8c" stroke-width="0.5"/>
<rect x="471.13" y="309.67" width="6.97" height="2.990" fill="#ecefeb" stroke="#8c8c8c" stroke-width="0.5"/>
<rect x="478.10" y="309.67" width="6.97" height="2.990" fill="#f8df92" stroke="#8c8c8c" stroke-width="0.5"/>
<rect x="485.07" y="309.67" width="6.97" height="2.990" fill="#e86b4d" stroke="#8c8c8c" stroke-width="0.5"/>
<rect x="492.03" y="309.67" width="6.97" height="2.990" fill="#f5c980" stroke="#8c8c8c" stroke-width="0.5"/>
<rect x="457.20" y="312.66" width="6.97" height="2.990" fill="#d4e0e7" stroke="#8c8c8c" stroke-width="0.5"/>
<rect x="464.17" y="312.66" width="6.97" height="2.990" fill="#b8cfe3" stroke="#8c8c8c" stroke-width="0.5"/>
<rect x="471.13" y="312.66" width="6.97" height="2.990" fill="#eff0eb" stroke="#8c8c8c" stroke-width="0.5"/>
<rect x="478.10" y="312.66" width="6.97" height="2.990" fill="#f8dc8b" stroke="#8c8c8c" stroke-width="0.5"/>
<rect x="485.07" y="312.66" width="6.97" height="2.990" fill="#eb7753" stroke="#8c8c8c" stroke-width="0.5"/>
<rect x="492.03" y="312.66" width="6.97" height="2.990" fill="#f8de8e" stroke="#8c8c8c" stroke-width="0.5"/>
<rect x="457.20" y="315.65" width="6.97" height="2.990" fill="#cbdbe6" stroke="#8c8c8c" stroke-width="0.5"/>
<rect x="464.17" y="315.65" width="6.97" height="2.990" fill="#b2cce3" stroke="#8c8c8c" stroke-width="0.5"/>
<rect x="471.13" y="315.65" width="6.97" height="2.990" fill="#e7ecea" stroke="#8c8c8c" stroke-width="0.5"/>
<rect x="478.10" y="315.65" width="6.97" height="2.990" fill="#f5e9bf" stroke="#8c8c8c" stroke-width="0.5"/>
<rect x="485.07" y="315.65" width="6.97" height="2.990" fill="#ed8a5d" stroke="#8c8c8c" stroke-width="0.5"/>
<rect x="492.03" y="315.65" width="6.97" height="2.990" fill="#f7d889" stroke="#8c8c8c" stroke-width="0.5"/>
<rect x="457.20" y="318.64" width="6.97" height="2.990" fill="#e6ebea" stroke="#8c8c8c" stroke-width="0.5"/>
<rect x="464.17" y="318.64" width="6.97" height="2.990" fill="#c7d8e5" stroke="#8c8c8c" stroke-width="0.5"/>
<rect x="471.13" y="318.64" width="6.97" height="2.990" fill="#ebeeeb" stroke="#8c8c8c" stroke-width="0.5"/>
<rect x="478.10" y="318.64" width="6.97" height="2.990" fill="#f6e6b2" stroke="#8c8c8c" stroke-width="0.5"/>
<rect x="485.07" y="318.64" width="6.97" height="2.990" fill="#f6e4a9" stroke="#8c8c8c" stroke-width="0.5"/>
<rect x="492.03" y="318.64" width="6.97" height="2.990" fill="#f6e6b2" stroke="#8c8c8c" stroke-width="0.5"/>
<rect x="457.20" y="321.63" width="6.97" height="2.990" fill="#d8e3e8" stroke="#8c8c8c" stroke-width="0.5"/>
<rect x="464.17" y="321.63" width="6.97" height="2.990" fill="#d8e3e8" stroke="#8c8c8c" stroke-width="0.5"/>
<rect x="471.13" y="321.63" width="6.97" height="2.990" fill="#c4d7e5" stroke="#8c8c8c" stroke-width="0.5"/>
<rect x="478.10" y="321.63" width="6.97" height="2.990" fill="#f7da8a" stroke="#8c8c8c" stroke-width="0.5"/>
<rect x="485.07" y="321.63" width="6.97" height="2.990" fill="#e7684c" stroke="#8c8c8c" stroke-width="0.5"/>
<rect x="492.03" y="321.63" width="6.97" height="2.990" fill="#ed835a" stroke="#8c8c8c" stroke-width="0.5"/>
<rect x="457.20" y="324.62" width="6.97" height="2.990" fill="#f5edcf" stroke="#8c8c8c" stroke-width="0.5"/>
<rect x="464.17" y="324.62" width="6.97" height="2.990" fill="#c6d8e5" stroke="#8c8c8c" stroke-width="0.5"/>
<rect x="471.13" y="324.62" width="6.97" height="2.990" fill="#f4f1e2" stroke="#8c8c8c" stroke-width="0.5"/>
<rect x="478.10" y="324.62" width="6.97" height="2.990" fill="#f09e69" stroke="#8c8c8c" stroke-width="0.5"/>
<rect x="485.07" y="324.62" width="6.97" height="2.990" fill="#dd5846" stroke="#8c8c8c" stroke-width="0.5"/>
<rect x="492.03" y="324.62" width="6.97" height="2.990" fill="#ed875c" stroke="#8c8c8c" stroke-width="0.5"/>
<rect x="457.20" y="327.61" width="6.97" height="2.990" fill="#d1dfe7" stroke="#8c8c8c" stroke-width="0.5"/>
<rect x="464.17" y="327.61" width="6.97" height="2.990" fill="#cadae6" stroke="#8c8c8c" stroke-width="0.5"/>
<rect x="471.13" y="327.61" width="6.97" height="2.990" fill="#d8e3e8" stroke="#8c8c8c" stroke-width="0.5"/>
<rect x="478.10" y="327.61" width="6.97" height="2.990" fill="#ee8e60" stroke="#8c8c8c" stroke-width="0.5"/>
<rect x="485.07" y="327.61" width="6.97" height="2.990" fill="#f09c67" stroke="#8c8c8c" stroke-width="0.5"/>
<rect x="492.03" y="327.61" width="6.97" height="2.990" fill="#ee9161" stroke="#8c8c8c" stroke-width="0.5"/>
<rect x="457.20" y="330.60" width="6.97" height="2.990" fill="#f4eed5" stroke="#8c8c8c" stroke-width="0.5"/>
<rect x="464.17" y="330.60" width="6.97" height="2.990" fill="#b9d0e4" stroke="#8c8c8c" stroke-width="0.5"/>
<rect x="471.13" y="330.60" width="6.97" height="2.990" fill="#e8ecea" stroke="#8c8c8c" stroke-width="0.5"/>
<rect x="478.10" y="330.60" width="6.97" height="2.990" fill="#ee8f60" stroke="#8c8c8c" stroke-width="0.5"/>
<rect x="485.07" y="330.60" width="6.97" height="2.990" fill="#ea6d4e" stroke="#8c8c8c" stroke-width="0.5"/>
<rect x="492.03" y="330.60" width="6.97" height="2.990" fill="#f4ba78" stroke="#8c8c8c" stroke-width="0.5"/>
<rect x="457.20" y="333.59" width="6.97" height="2.990" fill="#dbe4e8" stroke="#8c8c8c" stroke-width="0.5"/>
<rect x="464.17" y="333.59" width="6.97" height="2.990" fill="#ccdbe6" stroke="#8c8c8c" stroke-width="0.5"/>
<rect x="471.13" y="333.59" width="6.97" height="2.990" fill="#f2f3ec" stroke="#8c8c8c" stroke-width="0.5"/>
<rect x="478.10" y="333.59" width="6.97" height="2.990" fill="#f8db8a" stroke="#8c8c8c" stroke-width="0.5"/>
<rect x="485.07" y="333.59" width="6.97" height="2.990" fill="#d24540" stroke="#8c8c8c" stroke-width="0.5"/>
<rect x="492.03" y="333.59" width="6.97" height="2.990" fill="#e4634a" stroke="#8c8c8c" stroke-width="0.5"/>
<rect x="457.20" y="336.58" width="6.97" height="2.990" fill="#d5e1e8" stroke="#8c8c8c" stroke-width="0.5"/>
<rect x="464.17" y="336.58" width="6.97" height="2.990" fill="#c5d7e5" stroke="#8c8c8c" stroke-width="0.5"/>
<rect x="471.13" y="336.58" width="6.97" height="2.990" fill="#e1e8e9" stroke="#8c8c8c" stroke-width="0.5"/>
<rect x="478.10" y="336.58" width="6.97" height="2.990" fill="#ed855b" stroke="#8c8c8c" stroke-width="0.5"/>
<rect x="485.07" y="336.58" width="6.97" height="2.990" fill="#ee8e5f" stroke="#8c8c8c" stroke-width="0.5"/>
<rect x="492.03" y="336.58" width="6.97" height="2.990" fill="#ec8058" stroke="#8c8c8c" stroke-width="0.5"/>
<rect x="457.20" y="339.57" width="6.97" height="2.990" fill="#cadbe6" stroke="#8c8c8c" stroke-width="0.5"/>
<rect x="464.17" y="339.57" width="6.97" height="2.990" fill="#afcae2" stroke="#8c8c8c" stroke-width="0.5"/>
<rect x="471.13" y="339.57" width="6.97" height="2.990" fill="#f3f3ec" stroke="#8c8c8c" stroke-width="0.5"/>
<rect x="478.10" y="339.57" width="6.97" height="2.990" fill="#ed885c" stroke="#8c8c8c" stroke-width="0.5"/>
<rect x="485.07" y="339.57" width="6.97" height="2.990" fill="#ea6e4e" stroke="#8c8c8c" stroke-width="0.5"/>
<rect x="492.03" y="339.57" width="6.97" height="2.990" fill="#f3b576" stroke="#8c8c8c" stroke-width="0.5"/>
<rect x="457.20" y="342.56" width="6.97" height="2.990" fill="#e7ecea" stroke="#8c8c8c" stroke-width="0.5"/>
<rect x="464.17" y="342.56" width="6.97" height="2.990" fill="#bdd3e4" stroke="#8c8c8c" stroke-width="0.5"/>
<rect x="471.13" y="342.56" width="6.97" height="2.990" fill="#ecefeb" stroke="#8c8c8c" stroke-width="0.5"/>
<rect x="478.10" y="342.56" width="6.97" height="2.990" fill="#ec8158" stroke="#8c8c8c" stroke-width="0.5"/>
<rect x="485.07" y="342.56" width="6.97" height="2.990" fill="#db5445" stroke="#8c8c8c" stroke-width="0.5"/>
<rect x="492.03" y="342.56" width="6.97" height="2.990" fill="#f2af72" stroke="#8c8c8c" stroke-width="0.5"/>
<rect x="457.20" y="345.55" width="6.97" height="2.990" fill="#f4edd1" stroke="#8c8c8c" stroke-width="0.5"/>
<rect x="464.17" y="345.55" width="6.97" height="2.990" fill="#bfd4e4" stroke="#8c8c8c" stroke-width="0.5"/>
<rect x="471.13" y="345.55" width="6.97" height="2.990" fill="#f3f3eb" stroke="#8c8c8c" stroke-width="0.5"/>
<rect x="478.10" y="345.55" width="6.97" height="2.990" fill="#f7d687" stroke="#8c8c8c" stroke-width="0.5"/>
<rect x="485.07" y="345.55" width="6.97" height="2.990" fill="#ea704f" stroke="#8c8c8c" stroke-width="0.5"/>
<rect x="492.03" y="345.55" width="6.97" height="2.990" fill="#f8de8d" stroke="#8c8c8c" stroke-width="0.5"/>
<rect x="457.20" y="348.54" width="6.97" height="2.990" fill="#f4f0df" stroke="#8c8c8c" stroke-width="0.5"/>
<rect x="464.17" y="348.54" width="6.97" height="2.990" fill="#dde6e9" stroke="#8c8c8c" stroke-width="0.5"/>
<rect x="471.13" y="348.54" width="6.97" height="2.990" fill="#d6e1e8" stroke="#8c8c8c" stroke-width="0.5"/>
<rect x="478.10" y="348.54" width="6.97" height="2.990" fill="#f7e3a2" stroke="#8c8c8c" stroke-width="0.5"/>
<rect x="485.07" y="348.54" width="6.97" height="2.990" fill="#f3b776" stroke="#8c8c8c" stroke-width="0.5"/>
<rect x="492.03" y="348.54" width="6.97" height="2.990" fill="#ea6d4e" stroke="#8c8c8c" stroke-width="0.5"/>
<rect x="457.20" y="351.52" width="6.97" height="2.990" fill="#cbdbe6" stroke="#8c8c8c" stroke-width="0.5"/>
<rect x="464.17" y="351.52" width="6.97" height="2.990" fill="#bdd3e4" stroke="#8c8c8c" stroke-width="0.5"/>
<rect x="471.13" y="351.52" width="6.97" height="2.990" fill="#e3e9ea" stroke="#8c8c8c" stroke-width="0.5"/>
<rect x="478.10" y="351.52" width="6.97" height="2.990" fill="#f4c17c" stroke="#8c8c8c" stroke-width="0.5"/>
<rect x="485.07" y="351.52" width="6.97" height="2.990" fill="#f09f69" stroke="#8c8c8c" stroke-width="0.5"/>
<rect x="492.03" y="351.52" width="6.97" height="2.990" fill="#ef9a66" stroke="#8c8c8c" stroke-width="0.5"/>
<rect x="457.20" y="354.51" width="6.97" height="2.990" fill="#b5cee3" stroke="#8c8c8c" stroke-width="0.5"/>
<rect x="464.17" y="354.51" width="6.97" height="2.990" fill="#bdd3e4" stroke="#8c8c8c" stroke-width="0.5"/>
<rect x="471.13" y="354.51" width="6.97" height="2.990" fill="#ecefeb" stroke="#8c8c8c" stroke-width="0.5"/>
<rect x="478.10" y="354.51" width="6.97" height="2.990" fill="#f2aa6f" stroke="#8c8c8c" stroke-width="0.5"/>
<rect x="485.07" y="354.51" width="6.97" height="2.990" fill="#eb7854" stroke="#8c8c8c" stroke-width="0.5"/>
<rect x="492.03" y="354.51" width="6.97" height="2.990" fill="#f4be7a" stroke="#8c8c8c" stroke-width="0.5"/>
<rect x="457.20" y="357.50" width="6.97" height="2.990" fill="#d9e3e8" stroke="#8c8c8c" stroke-width="0.5"/>
<rect x="464.17" y="357.50" width="6.97" height="2.990" fill="#b4cde3" stroke="#8c8c8c" stroke-width="0.5"/>
<rect x="471.13" y="357.50" width="6.97" height="2.990" fill="#f4f0dc" stroke="#8c8c8c" stroke-width="0.5"/>
<rect x="478.10" y="357.50" width="6.97" height="2.990" fill="#f09e69" stroke="#8c8c8c" stroke-width="0.5"/>
<rect x="485.07" y="357.50" width="6.97" height="2.990" fill="#eb7351" stroke="#8c8c8c" stroke-width="0.5"/>
<rect x="492.03" y="357.50" width="6.97" height="2.990" fill="#f2ad71" stroke="#8c8c8c" stroke-width="0.5"/>
<rect x="457.20" y="360.49" width="6.97" height="2.990" fill="#c5d8e5" stroke="#8c8c8c" stroke-width="0.5"/>
<rect x="464.17" y="360.49" width="6.97" height="2.990" fill="#a9c7e1" stroke="#8c8c8c" stroke-width="0.5"/>
<rect x="471.13" y="360.49" width="6.97" height="2.990" fill="#e2e9ea" stroke="#8c8c8c" stroke-width="0.5"/>
<rect x="478.10" y="360.49" width="6.97" height="2.990" fill="#f2b173" stroke="#8c8c8c" stroke-width="0.5"/>
<rect x="485.07" y="360.49" width="6.97" height="2.990" fill="#e3624a" stroke="#8c8c8c" stroke-width="0.5"/>
<rect x="492.03" y="360.49" width="6.97" height="2.990" fill="#ed855a" stroke="#8c8c8c" stroke-width="0.5"/>
<rect x="457.20" y="363.48" width="6.97" height="2.990" fill="#f4eed6" stroke="#8c8c8c" stroke-width="0.5"/>
<rect x="464.17" y="363.48" width="6.97" height="2.990" fill="#afcae2" stroke="#8c8c8c" stroke-width="0.5"/>
<rect x="471.13" y="363.48" width="6.97" height="2.990" fill="#e8ecea" stroke="#8c8c8c" stroke-width="0.5"/>
<rect x="478.10" y="363.48" width="6.97" height="2.990" fill="#e15e48" stroke="#8c8c8c" stroke-width="0.5"/>
<rect x="485.07" y="363.48" width="6.97" height="2.990" fill="#f4c27c" stroke="#8c8c8c" stroke-width="0.5"/>
<rect x="492.03" y="363.48" width="6.97" height="2.990" fill="#f2af72" stroke="#8c8c8c" stroke-width="0.5"/>
<rect x="457.20" y="366.47" width="6.97" height="2.990" fill="#d9e3e8" stroke="#8c8c8c" stroke-width="0.5"/>
<rect x="464.17" y="366.47" width="6.97" height="2.990" fill="#c2d6e5" stroke="#8c8c8c" stroke-width="0.5"/>
<rect x="471.13" y="366.47" width="6.97" height="2.990" fill="#eef0eb" stroke="#8c8c8c" stroke-width="0.5"/>
<rect x="478.10" y="366.47" width="6.97" height="2.990" fill="#f5c67f" stroke="#8c8c8c" stroke-width="0.5"/>
<rect x="485.07" y="366.47" width="6.97" height="2.990" fill="#e5664b" stroke="#8c8c8c" stroke-width="0.5"/>
<rect x="492.03" y="366.47" width="6.97" height="2.990" fill="#ef9966" stroke="#8c8c8c" stroke-width="0.5"/>
<rect x="457.20" y="369.46" width="6.97" height="2.990" fill="#e6ebea" stroke="#8c8c8c" stroke-width="0.5"/>
<rect x="464.17" y="369.46" width="6.97" height="2.990" fill="#8fb2d4" stroke="#8c8c8c" stroke-width="0.5"/>
<rect x="471.13" y="369.46" width="6.97" height="2.990" fill="#dae4e8" stroke="#8c8c8c" stroke-width="0.5"/>
<rect x="478.10" y="369.46" width="6.97" height="2.990" fill="#f4bc79" stroke="#8c8c8c" stroke-width="0.5"/>
<rect x="485.07" y="369.46" width="6.97" height="2.990" fill="#f09c68" stroke="#8c8c8c" stroke-width="0.5"/>
<rect x="492.03" y="369.46" width="6.97" height="2.990" fill="#f5c47d" stroke="#8c8c8c" stroke-width="0.5"/>
<rect x="457.20" y="372.45" width="6.97" height="2.990" fill="#e3e9ea" stroke="#8c8c8c" stroke-width="0.5"/>
<rect x="464.17" y="372.45" width="6.97" height="2.990" fill="#b0cbe2" stroke="#8c8c8c" stroke-width="0.5"/>
<rect x="471.13" y="372.45" width="6.97" height="2.990" fill="#f1f2ec" stroke="#8c8c8c" stroke-width="0.5"/>
<rect x="478.10" y="372.45" width="6.97" height="2.990" fill="#f09f69" stroke="#8c8c8c" stroke-width="0.5"/>
<rect x="485.07" y="372.45" width="6.97" height="2.990" fill="#e6674c" stroke="#8c8c8c" stroke-width="0.5"/>
<rect x="492.03" y="372.45" width="6.97" height="2.990" fill="#ed875c" stroke="#8c8c8c" stroke-width="0.5"/>
<rect x="457.20" y="375.44" width="6.97" height="2.990" fill="#d3e0e7" stroke="#8c8c8c" stroke-width="0.5"/>
<rect x="464.17" y="375.44" width="6.97" height="2.990" fill="#9cbddb" stroke="#8c8c8c" stroke-width="0.5"/>
<rect x="471.13" y="375.44" width="6.97" height="2.990" fill="#e7ecea" stroke="#8c8c8c" stroke-width="0.5"/>
<rect x="478.10" y="375.44" width="6.97" height="2.990" fill="#f2ab70" stroke="#8c8c8c" stroke-width="0.5"/>
<rect x="485.07" y="375.44" width="6.97" height="2.990" fill="#ed865b" stroke="#8c8c8c" stroke-width="0.5"/>
<rect x="492.03" y="375.44" width="6.97" height="2.990" fill="#f09f69" stroke="#8c8c8c" stroke-width="0.5"/>
<rect x="457.20" y="378.43" width="6.97" height="2.990" fill="#e6ebea" stroke="#8c8c8c" stroke-width="0.5"/>
<rect x="464.17" y="378.43" width="6.97" height="2.990" fill="#abc8e1" stroke="#8c8c8c" stroke-width="0.5"/>
<rect x="471.13" y="378.43" width="6.97" height="2.990" fill="#f1f2ec" stroke="#8c8c8c" stroke-width="0.5"/>
<rect x="478.10" y="378.43" width="6.97" height="2.990" fill="#eb7351" stroke="#8c8c8c" stroke-width="0.5"/>
<rect x="485.07" y="378.43" width="6.97" height="2.990" fill="#ed875c" stroke="#8c8c8c" stroke-width="0.5"/>
<rect x="492.03" y="378.43" width="6.97" height="2.990" fill="#ef9564" stroke="#8c8c8c" stroke-width="0.5"/>
<rect x="457.20" y="381.42" width="6.97" height="2.990" fill="#d2dfe7" stroke="#8c8c8c" stroke-width="0.5"/>
<rect x="464.17" y="381.42" width="6.97" height="2.990" fill="#e1e8e9" stroke="#8c8c8c" stroke-width="0.5"/>
<rect x="471.13" y="381.42" width="6.97" height="2.990" fill="#ecefeb" stroke="#8c8c8c" stroke-width="0.5"/>
<rect x="478.10" y="381.42" width="6.97" height="2.990" fill="#ef9966" stroke="#8c8c8c" stroke-width="0.5"/>
<rect x="485.07" y="381.42" width="6.97" height="2.990" fill="#ee8d5f" stroke="#8c8c8c" stroke-width="0.5"/>
<rect x="492.03" y="381.42" width="6.97" height="2.990" fill="#f09b67" stroke="#8c8c8c" stroke-width="0.5"/>
<rect x="457.20" y="384.41" width="6.97" height="2.990" fill="#d5e1e8" stroke="#8c8c8c" stroke-width="0.5"/>
<rect x="464.17" y="384.41" width="6.97" height="2.990" fill="#92b4d6" stroke="#8c8c8c" stroke-width="0.5"/>
<rect x="471.13" y="384.41" width="6.97" height="2.990" fill="#f4f0df" stroke="#8c8c8c" stroke-width="0.5"/>
<rect x="478.10" y="384.41" width="6.97" height="2.990" fill="#ef9966" stroke="#8c8c8c" stroke-width="0.5"/>
<rect x="485.07" y="384.41" width="6.97" height="2.990" fill="#f4bc79" stroke="#8c8c8c" stroke-width="0.5"/>
<rect x="492.03" y="384.41" width="6.97" height="2.990" fill="#ec7e57" stroke="#8c8c8c" stroke-width="0.5"/>
<rect x="457.20" y="387.40" width="6.97" height="2.990" fill="#d2dfe7" stroke="#8c8c8c" stroke-width="0.5"/>
<rect x="464.17" y="387.40" width="6.97" height="2.990" fill="#c9dae6" stroke="#8c8c8c" stroke-width="0.5"/>
<rect x="471.13" y="387.40" width="6.97" height="2.990" fill="#edf0eb" stroke="#8c8c8c" stroke-width="0.5"/>
<rect x="478.10" y="387.40" width="6.97" height="2.990" fill="#f7e3a2" stroke="#8c8c8c" stroke-width="0.5"/>
<rect x="485.07" y="387.40" width="6.97" height="2.990" fill="#eb7753" stroke="#8c8c8c" stroke-width="0.5"/>
<rect x="492.03" y="387.40" width="6.97" height="2.990" fill="#e6674c" stroke="#8c8c8c" stroke-width="0.5"/>
<rect x="457.20" y="390.39" width="6.97" height="2.990" fill="#c8d9e6" stroke="#8c8c8c" stroke-width="0.5"/>
<rect x="464.17" y="390.39" width="6.97" height="2.990" fill="#a7c5e1" stroke="#8c8c8c" stroke-width="0.5"/>
<rect x="471.13" y="390.39" width="6.97" height="2.990" fill="#d3e0e7" stroke="#8c8c8c" stroke-width="0.5"/>
<rect x="478.10" y="390.39" width="6.97" height="2.990" fill="#f7e198" stroke="#8c8c8c" stroke-width="0.5"/>
<rect x="485.07" y="390.39" width="6.97" height="2.990" fill="#e5664b" stroke="#8c8c8c" stroke-width="0.5"/>
<rect x="492.03" y="390.39" width="6.97" height="2.990" fill="#e3634a" stroke="#8c8c8c" stroke-width="0.5"/>
<rect x="457.20" y="393.38" width="6.97" height="2.990" fill="#dfe7e9" stroke="#8c8c8c" stroke-width="0.5"/>
<rect x="464.17" y="393.38" width="6.97" height="2.990" fill="#c4d7e5" stroke="#8c8c8c" stroke-width="0.5"/>
<rect x="471.13" y="393.38" width="6.97" height="2.990" fill="#f4edd0" stroke="#8c8c8c" stroke-width="0.5"/>
<rect x="478.10" y="393.38" width="6.97" height="2.990" fill="#f6d185" stroke="#8c8c8c" stroke-width="0.5"/>
<rect x="485.07" y="393.38" width="6.97" height="2.990" fill="#ee8c5f" stroke="#8c8c8c" stroke-width="0.5"/>
<rect x="492.03" y="393.38" width="6.97" height="2.990" fill="#ed865b" stroke="#8c8c8c" stroke-width="0.5"/>
<rect x="457.20" y="396.37" width="6.97" height="2.990" fill="#e1e8e9" stroke="#8c8c8c" stroke-width="0.5"/>
<rect x="464.17" y="396.37" width="6.97" height="2.990" fill="#a8c6e1" stroke="#8c8c8c" stroke-width="0.5"/>
<rect x="471.13" y="396.37" width="6.97" height="2.990" fill="#d6e2e8" stroke="#8c8c8c" stroke-width="0.5"/>
<rect x="478.10" y="396.37" width="6.97" height="2.990" fill="#f2b173" stroke="#8c8c8c" stroke-width="0.5"/>
<rect x="485.07" y="396.37" width="6.97" height="2.990" fill="#e7684c" stroke="#8c8c8c" stroke-width="0.5"/>
<rect x="492.03" y="396.37" width="6.97" height="2.990" fill="#f6ce83" stroke="#8c8c8c" stroke-width="0.5"/>
<rect x="457.20" y="399.36" width="6.97" height="2.990" fill="#d0dee7" stroke="#8c8c8c" stroke-width="0.5"/>
<rect x="464.17" y="399.36" width="6.97" height="2.990" fill="#b2cce3" stroke="#8c8c8c" stroke-width="0.5"/>
<rect x="471.13" y="399.36" width="6.97" height="2.990" fill="#eff0eb" stroke="#8c8c8c" stroke-width="0.5"/>
<rect x="478.10" y="399.36" width="6.97" height="2.990" fill="#f4c17c" stroke="#8c8c8c" stroke-width="0.5"/>
<rect x="485.07" y="399.36" width="6.97" height="2.990" fill="#ea7250" stroke="#8c8c8c" stroke-width="0.5"/>
<rect x="492.03" y="399.36" width="6.97" height="2.990" fill="#f1a96e" stroke="#8c8c8c" stroke-width="0.5"/>
<rect x="457.20" y="402.35" width="6.97" height="2.990" fill="#edefeb" stroke="#8c8c8c" stroke-width="0.5"/>
<rect x="464.17" y="402.35" width="6.97" height="2.990" fill="#dee6e9" stroke="#8c8c8c" stroke-width="0.5"/>
<rect x="471.13" y="402.35" width="6.97" height="2.990" fill="#e2e9ea" stroke="#8c8c8c" stroke-width="0.5"/>
<rect x="478.10" y="402.35" width="6.97" height="2.990" fill="#f09b67" stroke="#8c8c8c" stroke-width="0.5"/>
<rect x="485.07" y="402.35" width="6.97" height="2.990" fill="#ee9061" stroke="#8c8c8c" stroke-width="0.5"/>
<rect x="492.03" y="402.35" width="6.97" height="2.990" fill="#ef9865" stroke="#8c8c8c" stroke-width="0.5"/>
<rect x="457.20" y="405.34" width="6.97" height="2.990" fill="#d7e2e8" stroke="#8c8c8c" stroke-width="0.5"/>
<rect x="464.17" y="405.34" width="6.97" height="2.990" fill="#cadae6" stroke="#8c8c8c" stroke-width="0.5"/>
<rect x="471.13" y="405.34" width="6.97" height="2.990" fill="#f5eac3" stroke="#8c8c8c" stroke-width="0.5"/>
<rect x="478.10" y="405.34" width="6.97" height="2.990" fill="#f6e5ab" stroke="#8c8c8c" stroke-width="0.5"/>
<rect x="485.07" y="405.34" width="6.97" height="2.990" fill="#e4644b" stroke="#8c8c8c" stroke-width="0.5"/>
<rect x="492.03" y="405.34" width="6.97" height="2.990" fill="#f5eac3" stroke="#8c8c8c" stroke-width="0.5"/>
<rect x="457.20" y="408.33" width="6.97" height="2.990" fill="#c6d8e5" stroke="#8c8c8c" stroke-width="0.5"/>
<rect x="464.17" y="408.33" width="6.97" height="2.990" fill="#95b7d7" stroke="#8c8c8c" stroke-width="0.5"/>
<rect x="471.13" y="408.33" width="6.97" height="2.990" fill="#f6e7b5" stroke="#8c8c8c" stroke-width="0.5"/>
<rect x="478.10" y="408.33" width="6.97" height="2.990" fill="#f5eac4" stroke="#8c8c8c" stroke-width="0.5"/>
<rect x="485.07" y="408.33" width="6.97" height="2.990" fill="#f2b073" stroke="#8c8c8c" stroke-width="0.5"/>
<rect x="492.03" y="408.33" width="6.97" height="2.990" fill="#f7e29e" stroke="#8c8c8c" stroke-width="0.5"/>
<rect x="457.20" y="411.32" width="6.97" height="2.990" fill="#ccdce6" stroke="#8c8c8c" stroke-width="0.5"/>
<rect x="464.17" y="411.32" width="6.97" height="2.990" fill="#99b9d9" stroke="#8c8c8c" stroke-width="0.5"/>
<rect x="471.13" y="411.32" width="6.97" height="2.990" fill="#f6e5ab" stroke="#8c8c8c" stroke-width="0.5"/>
<rect x="478.10" y="411.32" width="6.97" height="2.990" fill="#f6e6af" stroke="#8c8c8c" stroke-width="0.5"/>
<rect x="485.07" y="411.32" width="6.97" height="2.990" fill="#ec7b55" stroke="#8c8c8c" stroke-width="0.5"/>
<rect x="492.03" y="411.32" width="6.97" height="2.990" fill="#f8e094" stroke="#8c8c8c" stroke-width="0.5"/>
<rect x="457.20" y="414.31" width="6.97" height="2.990" fill="#a1c1de" stroke="#8c8c8c" stroke-width="0.5"/>
<rect x="464.17" y="414.31" width="6.97" height="2.990" fill="#95b7d7" stroke="#8c8c8c" stroke-width="0.5"/>
<rect x="471.13" y="414.31" width="6.97" height="2.990" fill="#f5e9bc" stroke="#8c8c8c" stroke-width="0.5"/>
<rect x="478.10" y="414.31" width="6.97" height="2.990" fill="#f8e094" stroke="#8c8c8c" stroke-width="0.5"/>
<rect x="485.07" y="414.31" width="6.97" height="2.990" fill="#e96c4d" stroke="#8c8c8c" stroke-width="0.5"/>
<rect x="492.03" y="414.31" width="6.97" height="2.990" fill="#f7e198" stroke="#8c8c8c" stroke-width="0.5"/>
<rect x="457.20" y="417.30" width="6.97" height="2.990" fill="#b7cfe3" stroke="#8c8c8c" stroke-width="0.5"/>
<rect x="464.17" y="417.30" width="6.97" height="2.990" fill="#afcae2" stroke="#8c8c8c" stroke-width="0.5"/>
<rect x="471.13" y="417.30" width="6.97" height="2.990" fill="#f7e29c" stroke="#8c8c8c" stroke-width="0.5"/>
<rect x="478.10" y="417.30" width="6.97" height="2.990" fill="#f6e8b9" stroke="#8c8c8c" stroke-width="0.5"/>
<rect x="485.07" y="417.30" width="6.97" height="2.990" fill="#ca383b" stroke="#8c8c8c" stroke-width="0.5"/>
<rect x="492.03" y="417.30" width="6.97" height="2.990" fill="#f6e6af" stroke="#8c8c8c" stroke-width="0.5"/>
<rect x="457.20" y="420.29" width="6.97" height="2.990" fill="#c6d8e5" stroke="#8c8c8c" stroke-width="0.5"/>
<rect x="464.17" y="420.29" width="6.97" height="2.990" fill="#acc8e2" stroke="#8c8c8c" stroke-width="0.5"/>
<rect x="471.13" y="420.29" width="6.97" height="2.990" fill="#f7e4a8" stroke="#8c8c8c" stroke-width="0.5"/>
<rect x="478.10" y="420.29" width="6.97" height="2.990" fill="#f5ebc6" stroke="#8c8c8c" stroke-width="0.5"/>
<rect x="485.07" y="420.29" width="6.97" height="2.990" fill="#f3b575" stroke="#8c8c8c" stroke-width="0.5"/>
<rect x="492.03" y="420.29" width="6.97" height="2.990" fill="#f8df91" stroke="#8c8c8c" stroke-width="0.5"/>
<rect x="457.20" y="423.28" width="6.97" height="2.990" fill="#d8e3e8" stroke="#8c8c8c" stroke-width="0.5"/>
<rect x="464.17" y="423.28" width="6.97" height="2.990" fill="#b6cee3" stroke="#8c8c8c" stroke-width="0.5"/>
<rect x="471.13" y="423.28" width="6.97" height="2.990" fill="#f8db8a" stroke="#8c8c8c" stroke-width="0.5"/>
<rect x="478.10" y="423.28" width="6.97" height="2.990" fill="#f7e3a4" stroke="#8c8c8c" stroke-width="0.5"/>
<rect x="485.07" y="423.28" width="6.97" height="2.990" fill="#e4634a" stroke="#8c8c8c" stroke-width="0.5"/>
<rect x="492.03" y="423.28" width="6.97" height="2.990" fill="#f8da8a" stroke="#8c8c8c" stroke-width="0.5"/>
<rect x="457.20" y="426.27" width="6.97" height="2.990" fill="#cedde7" stroke="#8c8c8c" stroke-width="0.5"/>
<rect x="464.17" y="426.27" width="6.97" height="2.990" fill="#cddce6" stroke="#8c8c8c" stroke-width="0.5"/>
<rect x="471.13" y="426.27" width="6.97" height="2.990" fill="#f4eed4" stroke="#8c8c8c" stroke-width="0.5"/>
<rect x="478.10" y="426.27" width="6.97" height="2.990" fill="#f6e6b2" stroke="#8c8c8c" stroke-width="0.5"/>
<rect x="485.07" y="426.27" width="6.97" height="2.990" fill="#f7e096" stroke="#8c8c8c" stroke-width="0.5"/>
<rect x="492.03" y="426.27" width="6.97" height="2.990" fill="#f8de8c" stroke="#8c8c8c" stroke-width="0.5"/>
<rect x="457.20" y="429.26" width="6.97" height="2.990" fill="#bed3e4" stroke="#8c8c8c" stroke-width="0.5"/>
<rect x="464.17" y="429.26" width="6.97" height="2.990" fill="#bdd2e4" stroke="#8c8c8c" stroke-width="0.5"/>
<rect x="471.13" y="429.26" width="6.97" height="2.990" fill="#f8df93" stroke="#8c8c8c" stroke-width="0.5"/>
<rect x="478.10" y="429.26" width="6.97" height="2.990" fill="#f6e4a9" stroke="#8c8c8c" stroke-width="0.5"/>
<rect x="485.07" y="429.26" width="6.97" height="2.990" fill="#ea6d4e" stroke="#8c8c8c" stroke-width="0.5"/>
<rect x="492.03" y="429.26" width="6.97" height="2.990" fill="#f6e5ab" stroke="#8c8c8c" stroke-width="0.5"/>
<rect x="457.20" y="432.25" width="6.97" height="2.990" fill="#b3cde3" stroke="#8c8c8c" stroke-width="0.5"/>
<rect x="464.17" y="432.25" width="6.97" height="2.990" fill="#96b8d8" stroke="#8c8c8c" stroke-width="0.5"/>
<rect x="471.13" y="432.25" width="6.97" height="2.990" fill="#f6e6b0" stroke="#8c8c8c" stroke-width="0.5"/>
<rect x="478.10" y="432.25" width="6.97" height="2.990" fill="#f7e4a8" stroke="#8c8c8c" stroke-width="0.5"/>
<rect x="485.07" y="432.25" width="6.97" height="2.990" fill="#e6674c" stroke="#8c8c8c" stroke-width="0.5"/>
<rect x="492.03" y="432.25" width="6.97" height="2.990" fill="#f7e3a3" stroke="#8c8c8c" stroke-width="0.5"/>
<rect x="457.20" y="435.24" width="6.97" height="2.990" fill="#dbe4e8" stroke="#8c8c8c" stroke-width="0.5"/>
<rect x="464.17" y="435.24" width="6.97" height="2.990" fill="#b3cde3" stroke="#8c8c8c" stroke-width="0.5"/>
<rect x="471.13" y="435.24" width="6.97" height="2.990" fill="#f5e9bf" stroke="#8c8c8c" stroke-width="0.5"/>
<rect x="478.10" y="435.24" width="6.97" height="2.990" fill="#f7e199" stroke="#8c8c8c" stroke-width="0.5"/>
<rect x="485.07" y="435.24" width="6.97" height="2.990" fill="#e86b4d" stroke="#8c8c8c" stroke-width="0.5"/>
<rect x="492.03" y="435.24" width="6.97" height="2.990" fill="#f6e8bb" stroke="#8c8c8c" stroke-width="0.5"/>
<rect x="457.20" y="438.23" width="6.97" height="2.990" fill="#e7ecea" stroke="#8c8c8c" stroke-width="0.5"/>
<rect x="464.17" y="438.23" width="6.97" height="2.990" fill="#b2cce3" stroke="#8c8c8c" stroke-width="0.5"/>
<rect x="471.13" y="438.23" width="6.97" height="2.990" fill="#f5edce" stroke="#8c8c8c" stroke-width="0.5"/>
<rect x="478.10" y="438.23" width="6.97" height="2.990" fill="#f8df8f" stroke="#8c8c8c" stroke-width="0.5"/>
<rect x="485.07" y="438.23" width="6.97" height="2.990" fill="#e2614a" stroke="#8c8c8c" stroke-width="0.5"/>
<rect x="492.03" y="438.23" width="6.97" height="2.990" fill="#f5eac5" stroke="#8c8c8c" stroke-width="0.5"/>
<rect x="457.20" y="441.22" width="6.97" height="2.990" fill="#eaeeeb" stroke="#8c8c8c" stroke-width="0.5"/>
<rect x="464.17" y="441.22" width="6.97" height="2.990" fill="#b0cbe2" stroke="#8c8c8c" stroke-width="0.5"/>
<rect x="471.13" y="441.22" width="6.97" height="2.990" fill="#f6e5ab" stroke="#8c8c8c" stroke-width="0.5"/>
<rect x="478.10" y="441.22" width="6.97" height="2.990" fill="#f7e3a4" stroke="#8c8c8c" stroke-width="0.5"/>
<rect x="485.07" y="441.22" width="6.97" height="2.990" fill="#e86b4d" stroke="#8c8c8c" stroke-width="0.5"/>
<rect x="492.03" y="441.22" width="6.97" height="2.990" fill="#f5eac4" stroke="#8c8c8c" stroke-width="0.5"/>
<rect x="457.20" y="444.21" width="6.97" height="2.990" fill="#dce5e9" stroke="#8c8c8c" stroke-width="0.5"/>
<rect x="464.17" y="444.21" width="6.97" height="2.990" fill="#a9c6e1" stroke="#8c8c8c" stroke-width="0.5"/>
<rect x="471.13" y="444.21" width="6.97" height="2.990" fill="#f5eac2" stroke="#8c8c8c" stroke-width="0.5"/>
<rect x="478.10" y="444.21" width="6.97" height="2.990" fill="#f7e2a0" stroke="#8c8c8c" stroke-width="0.5"/>
<rect x="485.07" y="444.21" width="6.97" height="2.990" fill="#e6674b" stroke="#8c8c8c" stroke-width="0.5"/>
<rect x="492.03" y="444.21" width="6.97" height="2.990" fill="#f8df8f" stroke="#8c8c8c" stroke-width="0.5"/>
<line x1="421.60" y1="77.40" x2="421.60" y2="181.90" stroke="#222" stroke-width="0.8"/>
<line x1="421.60" y1="77.40" x2="456.00" y2="77.40" stroke="#222" stroke-width="0.8"/>
<line x1="421.60" y1="181.90" x2="453.40" y2="181.90" stroke="#222" stroke-width="0.8"/>
<line x1="456.40" y1="66.00" x2="456.40" y2="100.00" stroke="#111" stroke-width="1.3"/>
<line x1="456.40" y1="100.00" x2="456.40" y2="137.00" stroke="#888" stroke-width="0.8"/>
<line x1="453.40" y1="142.00" x2="453.40" y2="221.00" stroke="#999" stroke-width="0.6"/>
<line x1="456.60" y1="171.00" x2="456.60" y2="238.00" stroke="#222" stroke-width="1.1"/>
<line x1="456.60" y1="238.00" x2="456.60" y2="330.00" stroke="#888" stroke-width="0.6"/>
<line x1="456.80" y1="409.00" x2="456.80" y2="430.00" stroke="#333" stroke-width="1.1"/>
<defs><linearGradient id="cs" x1="0" y1="0" x2="0" y2="1"><stop offset="0" stop-color="#c8343a"/><stop offset="0.2" stop-color="#ea6d4f"/><stop offset="0.4" stop-color="#f8df8c"/><stop offset="0.6" stop-color="#f3f3ec"/><stop offset="0.8" stop-color="#a8c6e0"/><stop offset="1" stop-color="#4a7ab0"/></linearGradient></defs>
<rect x="507.0" y="65.8" width="3.9" height="58.2" fill="url(#cs)"/>
<text x="511.60" y="70.70" font-size="8.0" text-anchor="start" fill="#1e1e1e" stroke="#1e1e1e" stroke-width="0.22">3</text>
<text x="511.60" y="81.00" font-size="8.0" text-anchor="start" fill="#1e1e1e" stroke="#1e1e1e" stroke-width="0.22">2</text>
<text x="511.60" y="91.90" font-size="8.0" text-anchor="start" fill="#1e1e1e" stroke="#1e1e1e" stroke-width="0.22">1</text>
<text x="511.60" y="102.10" font-size="8.0" text-anchor="start" fill="#1e1e1e" stroke="#1e1e1e" stroke-width="0.22">0</text>
<text x="511.30" y="115.00" font-size="7.2" text-anchor="start" fill="#1e1e1e" stroke="#1e1e1e" stroke-width="0.22">−1</text>
<text x="511.30" y="125.10" font-size="7.2" text-anchor="start" fill="#1e1e1e" stroke="#1e1e1e" stroke-width="0.22">−2</text>
</svg>
</body></html>
